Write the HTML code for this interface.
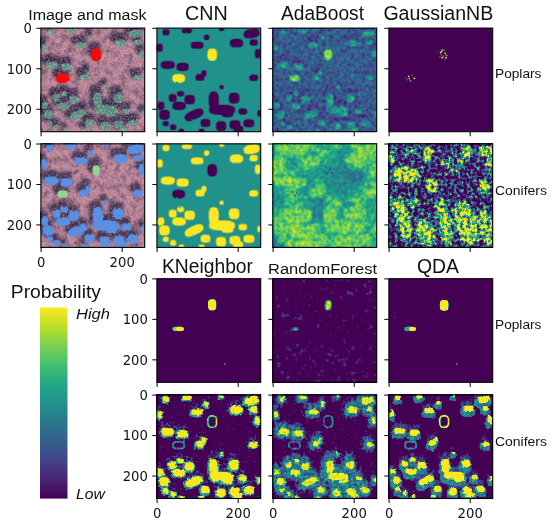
<!DOCTYPE html>
<html><head><meta charset="utf-8"><style>html,body{margin:0;padding:0;background:#fff;overflow:hidden}svg{display:block}</style></head>
<body><svg width="550" height="526" viewBox="0 0 550 526" color-interpolation-filters="sRGB">
<rect width="550" height="526" fill="#fff"/>
<defs><linearGradient id="vg" x1="0" y1="0" x2="0" y2="1"><stop offset="0.0" stop-color="#fde725"/><stop offset="0.1" stop-color="#bddf26"/><stop offset="0.2" stop-color="#7ad151"/><stop offset="0.3" stop-color="#44bf70"/><stop offset="0.4" stop-color="#22a884"/><stop offset="0.5" stop-color="#21918c"/><stop offset="0.6" stop-color="#2a788e"/><stop offset="0.7" stop-color="#355f8d"/><stop offset="0.8" stop-color="#414487"/><stop offset="0.9" stop-color="#482475"/><stop offset="1.0" stop-color="#440154"/></linearGradient></defs><rect x="40" y="307.5" width="27.5" height="191.1" fill="url(#vg)"/>
<svg x="40.9" y="28.1" width="103.8" height="103.6" viewBox="0 0 526 526" preserveAspectRatio="none" overflow="hidden"><defs><filter id="ae1s" x="-50%" y="-50%" width="200%" height="200%"><feGaussianBlur stdDeviation="7"/></filter><filter id="ae1c" x="-50%" y="-50%" width="200%" height="200%"><feGaussianBlur stdDeviation="3"/></filter><filter id="ae1m" x="-20%" y="-20%" width="140%" height="140%"><feTurbulence type="fractalNoise" baseFrequency="0.07" numOctaves="2" seed="14" result="t"/><feDisplacementMap in="SourceGraphic" in2="t" scale="16" xChannelSelector="R" yChannelSelector="G"/></filter><filter id="ae1n1" x="0" y="0" width="100%" height="100%"><feTurbulence type="fractalNoise" baseFrequency="0.03" numOctaves="2" seed="3" result="t"/><feColorMatrix in="t" type="matrix" values="0 0 0 0 0.25  0 0 0 0 0.17  0 0 0 0 0.25  2.4 0 0 0 -1.0"/></filter><filter id="ae1n2" x="0" y="0" width="100%" height="100%"><feTurbulence type="fractalNoise" baseFrequency="0.09" numOctaves="2" seed="6" result="t"/><feColorMatrix in="t" type="matrix" values="0 0 0 0 0.88  0 0 0 0 0.64  0 0 0 0 0.72  2.0 0 0 0 -0.8"/></filter><filter id="ae1n3" x="0" y="0" width="100%" height="100%"><feTurbulence type="fractalNoise" baseFrequency="0.09" numOctaves="2" seed="8" result="t"/><feColorMatrix in="t" type="matrix" values="0 0 0 0 0.3  0 0 0 0 0.22  0 0 0 0 0.36  2.0 0 0 0 -0.85"/></filter><filter id="ae1n5" x="0" y="0" width="100%" height="100%"><feTurbulence type="fractalNoise" baseFrequency="0.12" numOctaves="2" seed="16" result="t"/><feColorMatrix in="t" type="matrix" values="0 0 0 0 0.72  0 0 0 0 0.68  0 0 0 0 0.84  2.2 0 0 0 -0.95"/></filter><filter id="ae1n4" x="0" y="0" width="100%" height="100%"><feTurbulence type="fractalNoise" baseFrequency="0.1" numOctaves="2" seed="12" result="t"/><feColorMatrix in="t" type="matrix" values="0 0 0 0 0.62  0 0 0 0 0.88  0 0 0 0 0.78  2.4 0 0 0 -1.0"/></filter><clipPath id="ae1cl"><rect x="31.0" y="7.8" width="30.0" height="26.5" rx="11.2" ry="9.9"/><rect x="129.9" y="3.4" width="44.1" height="21.2" rx="16.5" ry="7.9"/><rect x="240.5" y="35.5" width="22.9" height="22.9" rx="8.6" ry="8.6"/><rect x="317.4" y="0.8" width="21.2" height="12.3" rx="7.9" ry="4.6"/><rect x="176.7" y="72.0" width="54.7" height="30.0" rx="20.5" ry="11.2"/><rect x="444.7" y="8.6" width="70.6" height="38.8" rx="26.5" ry="14.6" transform="rotate(-10 480 28)"/><rect x="373.9" y="57.5" width="58.2" height="37.0" rx="21.8" ry="13.9"/><rect x="472.4" y="58.9" width="35.3" height="28.2" rx="13.2" ry="10.6"/><rect x="498.7" y="109.7" width="24.7" height="40.6" rx="9.3" ry="15.2"/><rect x="0.8" y="82.4" width="26.5" height="35.3" rx="9.9" ry="13.2"/><rect x="24.1" y="169.4" width="61.7" height="35.3" rx="23.2" ry="13.2"/><rect x="103.5" y="179.4" width="52.9" height="35.3" rx="19.8" ry="13.2"/><rect x="198.6" y="235.0" width="38.8" height="30.0" rx="14.6" ry="11.2"/><rect x="227.4" y="215.9" width="21.2" height="28.2" rx="7.9" ry="10.6"/><rect x="470.6" y="237.9" width="38.8" height="28.2" rx="14.6" ry="10.6"/><rect x="319.2" y="290.2" width="17.6" height="17.6" rx="6.6" ry="6.6"/><rect x="105.0" y="321.5" width="30.0" height="22.9" rx="11.2" ry="8.6"/><rect x="63.2" y="337.4" width="33.5" height="35.3" rx="12.6" ry="13.2"/><rect x="143.1" y="342.7" width="45.9" height="40.6" rx="17.2" ry="15.2"/><rect x="265.9" y="327.2" width="44.1" height="77.6" rx="16.5" ry="29.1"/><rect x="271.8" y="392.9" width="116.4" height="44.1" rx="43.7" ry="16.5"/><rect x="330.5" y="410.6" width="52.9" height="38.8" rx="19.8" ry="14.6"/><rect x="368.1" y="331.2" width="45.9" height="47.6" rx="17.2" ry="17.9"/><rect x="5.0" y="376.2" width="30.0" height="33.5" rx="11.2" ry="12.6"/><rect x="82.0" y="377.4" width="60.0" height="35.3" rx="22.5" ry="13.2"/><rect x="15.1" y="417.9" width="45.9" height="44.1" rx="17.2" ry="16.5"/><rect x="143.9" y="420.6" width="88.2" height="38.8" rx="33.1" ry="14.6" transform="rotate(-25 188 440)"/><rect x="416.5" y="408.9" width="37.0" height="28.2" rx="13.9" ry="10.6"/><rect x="31.8" y="473.5" width="26.5" height="22.9" rx="9.9" ry="8.6"/><rect x="68.8" y="490.7" width="26.5" height="24.7" rx="9.9" ry="9.3"/><rect x="113.4" y="512.9" width="21.2" height="14.1" rx="7.9" ry="5.3"/><rect x="213.7" y="512.9" width="24.7" height="14.1" rx="9.3" ry="5.3"/><rect x="224.8" y="464.4" width="42.3" height="35.3" rx="15.9" ry="13.2"/><rect x="302.9" y="475.8" width="44.1" height="42.3" rx="16.5" ry="15.9"/><rect x="371.2" y="470.6" width="47.6" height="38.8" rx="17.9" ry="14.6"/><rect x="389.9" y="497.9" width="44.1" height="28.2" rx="16.5" ry="10.6"/><rect x="442.2" y="465.4" width="47.6" height="35.3" rx="17.9" ry="13.2"/><rect x="510.2" y="419.8" width="17.6" height="26.5" rx="6.6" ry="9.9"/></clipPath></defs>
<rect width="526" height="526" fill="#c48c9a"/>
<rect width="526" height="526" filter="url(#ae1n1)" opacity="0.6"/>
<g fill="#221a3a" opacity="0.85" filter="url(#ae1s)">
<rect x="8.8" y="-29.3" width="50.4" height="44.6" rx="18.9" ry="16.7"/>
<rect x="106.2" y="-33.2" width="67.6" height="38.4" rx="25.4" ry="14.4"/>
<rect x="219.1" y="-1.2" width="41.7" height="40.5" rx="15.7" ry="15.2"/>
<rect x="296.2" y="-35.1" width="39.6" height="28.1" rx="14.8" ry="10.5"/>
<rect x="151.7" y="34.6" width="80.6" height="48.7" rx="30.2" ry="18.3"/>
<rect x="418.0" y="-29.5" width="100.0" height="59.0" rx="37.5" ry="22.1" transform="rotate(-10 468 0)"/>
<rect x="348.6" y="19.5" width="84.9" height="56.9" rx="31.8" ry="21.4"/>
<rect x="449.6" y="21.7" width="56.8" height="46.6" rx="21.3" ry="17.5"/>
<rect x="477.0" y="71.5" width="43.9" height="61.1" rx="16.5" ry="22.9"/>
<rect x="-21.0" y="44.6" width="46.1" height="54.9" rx="17.3" ry="20.6"/>
<rect x="-1.6" y="131.6" width="89.2" height="54.9" rx="33.4" ry="20.6"/>
<rect x="78.8" y="141.6" width="78.4" height="54.9" rx="29.4" ry="20.6"/>
<rect x="175.4" y="197.6" width="61.2" height="48.7" rx="22.9" ry="18.3"/>
<rect x="206.2" y="178.7" width="39.6" height="46.6" rx="14.8" ry="17.5"/>
<rect x="447.4" y="200.7" width="61.2" height="46.6" rx="22.9" ry="17.5"/>
<rect x="298.4" y="253.8" width="35.3" height="34.3" rx="13.2" ry="12.9"/>
<rect x="82.8" y="284.8" width="50.4" height="40.5" rx="18.9" ry="15.2"/>
<rect x="40.7" y="299.6" width="54.7" height="54.9" rx="20.5" ry="20.6"/>
<rect x="119.1" y="304.5" width="69.8" height="61.1" rx="26.2" ry="22.9"/>
<rect x="242.2" y="285.9" width="67.6" height="104.3" rx="25.4" ry="39.1"/>
<rect x="240.0" y="354.4" width="156.0" height="65.2" rx="58.5" ry="24.4"/>
<rect x="305.8" y="372.5" width="78.4" height="59.0" rx="29.4" ry="22.1"/>
<rect x="344.1" y="292.4" width="69.8" height="69.3" rx="26.2" ry="26.0"/>
<rect x="-17.2" y="338.6" width="50.4" height="52.8" rx="18.9" ry="19.8"/>
<rect x="56.5" y="339.6" width="87.0" height="54.9" rx="32.6" ry="20.6"/>
<rect x="-8.9" y="379.4" width="69.8" height="65.2" rx="26.2" ry="24.4"/>
<rect x="115.2" y="382.5" width="121.5" height="59.0" rx="45.6" ry="22.1" transform="rotate(-25 176 412)"/>
<rect x="393.5" y="371.7" width="59.0" height="46.6" rx="22.1" ry="17.5"/>
<rect x="10.0" y="436.8" width="46.1" height="40.5" rx="17.3" ry="15.2"/>
<rect x="47.0" y="453.7" width="46.1" height="42.5" rx="17.3" ry="15.9"/>
<rect x="92.2" y="476.9" width="39.6" height="30.2" rx="14.8" ry="11.3"/>
<rect x="192.0" y="476.9" width="43.9" height="30.2" rx="16.5" ry="11.3"/>
<rect x="201.3" y="426.6" width="65.5" height="54.9" rx="24.5" ry="20.6"/>
<rect x="279.2" y="437.4" width="67.6" height="63.1" rx="25.4" ry="23.7"/>
<rect x="347.0" y="432.5" width="71.9" height="59.0" rx="27.0" ry="22.1"/>
<rect x="366.2" y="460.7" width="67.6" height="46.6" rx="25.4" ry="17.5"/>
<rect x="418.0" y="427.6" width="71.9" height="54.9" rx="27.0" ry="20.6"/>
<rect x="489.4" y="382.7" width="35.3" height="44.6" rx="13.2" ry="16.7"/>
<rect x="235.3" y="68.2" width="65.5" height="77.5" rx="24.5" ry="29.1"/>
<rect x="56.6" y="197.5" width="82.7" height="59.0" rx="31.0" ry="22.1"/>
</g>
<rect width="526" height="526" filter="url(#ae1n2)" opacity="0.6"/>
<rect width="526" height="526" filter="url(#ae1n3)" opacity="0.45"/>
<rect width="526" height="526" filter="url(#ae1n5)" opacity="0.3"/>
<g filter="url(#ae1m)"><g clip-path="url(#ae1cl)" opacity="0.85"><rect width="526" height="526" fill="#5a9282"/><rect width="526" height="526" filter="url(#ae1n4)" opacity="0.8"/></g></g>
<g fill="#f50a0a" filter="url(#ae1m)"><rect x="254.5" y="102.7" width="51.0" height="64.7" rx="19.1" ry="24.3"/><rect x="76.7" y="231.5" width="66.6" height="47.0" rx="25.0" ry="17.6"/></g></svg><rect x="40.9" y="28.1" width="103.8" height="103.6" fill="none" stroke="#000" stroke-width="1.1"/><path d="M36.30 28.30H40.90 M36.30 68.77H40.90 M36.30 109.24H40.90 M41.10 131.70V136.30 M122.20 131.70V136.30" stroke="#000" stroke-width="1.0" fill="none"/><svg x="156.9" y="28.1" width="103.8" height="103.6" viewBox="0 0 526 526" preserveAspectRatio="none" overflow="hidden"><rect width="526" height="526" fill="#21918c"/>
<defs><filter id="c1d" x="-20%" y="-20%" width="140%" height="140%"><feTurbulence type="fractalNoise" baseFrequency="0.035" numOctaves="2" seed="7" result="t"/><feDisplacementMap in="SourceGraphic" in2="t" scale="9" xChannelSelector="R" yChannelSelector="G"/></filter></defs>
<g filter="url(#c1d)">
<g fill="#440154"><rect x="28.4" y="5.3" width="35.3" height="31.4" rx="13.2" ry="11.8"/><rect x="126.5" y="1.3" width="51.0" height="25.5" rx="19.1" ry="9.6"/><rect x="238.3" y="33.3" width="27.4" height="27.4" rx="10.3" ry="10.3"/><rect x="315.3" y="-0.8" width="25.5" height="15.7" rx="9.6" ry="5.9"/><rect x="172.6" y="69.4" width="62.7" height="35.3" rx="23.5" ry="13.2"/><rect x="439.8" y="5.5" width="80.4" height="45.1" rx="30.1" ry="16.9" transform="rotate(-10 480 28)"/><rect x="369.7" y="54.4" width="66.6" height="43.1" rx="25.0" ry="16.2"/><rect x="469.4" y="56.3" width="41.2" height="33.3" rx="15.4" ry="12.5"/><rect x="496.3" y="106.5" width="29.4" height="47.0" rx="11.0" ry="17.6"/><rect x="-1.7" y="79.4" width="31.4" height="41.2" rx="11.8" ry="15.4"/><rect x="19.7" y="166.4" width="70.6" height="41.2" rx="26.5" ry="15.4"/><rect x="99.6" y="176.4" width="60.8" height="41.2" rx="22.8" ry="15.4"/><rect x="195.5" y="232.4" width="45.1" height="35.3" rx="16.9" ry="13.2"/><rect x="225.3" y="213.3" width="25.5" height="33.3" rx="9.6" ry="12.5"/><rect x="467.5" y="235.3" width="45.1" height="33.3" rx="16.9" ry="12.5"/><rect x="317.2" y="288.2" width="21.6" height="21.6" rx="8.1" ry="8.1"/><rect x="102.4" y="319.3" width="35.3" height="27.4" rx="13.2" ry="10.3"/><rect x="60.4" y="334.4" width="39.2" height="41.2" rx="14.7" ry="15.4"/><rect x="139.5" y="339.5" width="52.9" height="47.0" rx="19.8" ry="17.6"/><rect x="262.5" y="321.9" width="51.0" height="88.2" rx="19.1" ry="33.1"/><rect x="264.3" y="389.5" width="131.3" height="51.0" rx="49.2" ry="19.1"/><rect x="326.6" y="407.5" width="60.8" height="45.1" rx="22.8" ry="16.9"/><rect x="364.5" y="327.6" width="52.9" height="54.9" rx="19.8" ry="20.6"/><rect x="2.4" y="373.4" width="35.3" height="39.2" rx="13.2" ry="14.7"/><rect x="77.7" y="374.4" width="68.6" height="41.2" rx="25.7" ry="15.4"/><rect x="11.5" y="414.5" width="52.9" height="51.0" rx="19.8" ry="19.1"/><rect x="138.0" y="417.5" width="100.0" height="45.1" rx="37.5" ry="16.9" transform="rotate(-25 188 440)"/><rect x="413.4" y="406.3" width="43.1" height="33.3" rx="16.2" ry="12.5"/><rect x="29.3" y="471.3" width="31.4" height="27.4" rx="11.8" ry="10.3"/><rect x="66.3" y="488.3" width="31.4" height="29.4" rx="11.8" ry="11.0"/><rect x="111.3" y="511.2" width="25.5" height="17.6" rx="9.6" ry="6.6"/><rect x="211.3" y="511.2" width="29.4" height="17.6" rx="11.0" ry="6.6"/><rect x="221.5" y="461.4" width="49.0" height="41.2" rx="18.4" ry="15.4"/><rect x="299.5" y="472.5" width="51.0" height="49.0" rx="19.1" ry="18.4"/><rect x="367.6" y="467.5" width="54.9" height="45.1" rx="20.6" ry="16.9"/><rect x="386.5" y="495.3" width="51.0" height="33.3" rx="19.1" ry="12.5"/><rect x="438.6" y="462.4" width="54.9" height="41.2" rx="20.6" ry="15.4"/><rect x="508.2" y="417.3" width="21.6" height="31.4" rx="8.1" ry="11.8"/></g>
<g fill="#fde725"><rect x="255.5" y="103.6" width="49.0" height="62.7" rx="18.4" ry="23.5"/><rect x="77.7" y="232.5" width="64.7" height="45.1" rx="24.3" ry="16.9"/></g>
</g></svg><rect x="156.9" y="28.1" width="103.8" height="103.6" fill="none" stroke="#000" stroke-width="1.1"/><path d="M152.30 28.30H156.90 M152.30 68.77H156.90 M152.30 109.24H156.90 M157.10 131.70V136.30 M238.20 131.70V136.30" stroke="#000" stroke-width="1.0" fill="none"/><svg x="272.9" y="28.1" width="103.8" height="103.6" viewBox="0 0 526 526" preserveAspectRatio="none" overflow="hidden"><defs><filter id="ad1v" x="0" y="0" width="100%" height="100%" color-interpolation-filters="sRGB"><feGaussianBlur in="SourceGraphic" stdDeviation="3" result="f"/><feTurbulence type="fractalNoise" baseFrequency="0.055" numOctaves="2" seed="21" result="t"/><feColorMatrix in="t" type="matrix" values="1 0 0 0 0 1 0 0 0 0 1 0 0 0 0 0 0 0 0 1" result="tn"/><feComposite in="f" in2="tn" operator="arithmetic" k1="0" k2="1.0" k3="0.5" k4="-0.25" result="v"/><feComponentTransfer in="v"><feFuncR type="discrete" tableValues="0.267 0.274 0.279 0.282 0.283 0.282 0.279 0.273 0.267 0.257 0.249 0.239 0.228 0.218 0.207 0.198 0.187 0.179 0.170 0.162 0.155 0.146 0.139 0.131 0.125 0.121 0.119 0.123 0.132 0.147 0.171 0.197 0.233 0.267 0.312 0.352 0.404 0.449 0.497 0.555 0.606 0.668 0.720 0.783 0.835 0.896 0.946 0.993"/><feFuncG type="discrete" tableValues="0.005 0.031 0.062 0.095 0.121 0.151 0.175 0.205 0.228 0.256 0.279 0.301 0.327 0.347 0.372 0.392 0.415 0.434 0.456 0.475 0.493 0.515 0.534 0.556 0.574 0.596 0.615 0.637 0.655 0.673 0.694 0.712 0.732 0.749 0.768 0.783 0.800 0.814 0.826 0.840 0.851 0.862 0.870 0.879 0.886 0.894 0.900 0.906"/><feFuncB type="discrete" tableValues="0.329 0.359 0.387 0.417 0.441 0.465 0.483 0.502 0.514 0.527 0.535 0.541 0.547 0.550 0.553 0.555 0.557 0.557 0.558 0.558 0.558 0.557 0.555 0.552 0.549 0.544 0.538 0.529 0.520 0.509 0.494 0.479 0.459 0.441 0.416 0.393 0.363 0.335 0.306 0.269 0.237 0.196 0.163 0.125 0.103 0.096 0.113 0.144"/><feFuncA type="linear" slope="0" intercept="1"/></feComponentTransfer></filter><filter id="ad1h" x="-50%" y="-50%" width="200%" height="200%"><feGaussianBlur stdDeviation="10"/></filter><filter id="ad1c" x="-50%" y="-50%" width="200%" height="200%"><feGaussianBlur stdDeviation="3"/></filter></defs>
<g filter="url(#ad1v)">
<rect x="-20" y="-20" width="566" height="566" fill="rgb(76,76,76)"/>
<g fill="rgb(31,31,31)" opacity="0.55" filter="url(#ad1h)"><rect x="21.7" y="-25.2" width="36.7" height="32.3" rx="13.7" ry="12.1"/><rect x="119.0" y="-28.9" width="53.9" height="25.9" rx="20.2" ry="9.7"/><rect x="232.0" y="3.0" width="28.0" height="28.0" rx="10.5" ry="10.5"/><rect x="309.1" y="-30.5" width="25.9" height="15.1" rx="9.7" ry="5.7"/><rect x="164.6" y="38.7" width="66.8" height="36.7" rx="25.1" ry="13.7"/><rect x="430.9" y="-25.7" width="86.2" height="47.4" rx="32.3" ry="17.8" transform="rotate(-10 474 -2)"/><rect x="361.4" y="23.4" width="71.1" height="45.3" rx="26.7" ry="17.0"/><rect x="462.4" y="25.8" width="43.1" height="34.5" rx="16.2" ry="12.9"/><rect x="489.9" y="75.2" width="30.2" height="49.6" rx="11.3" ry="18.6"/><rect x="-8.2" y="48.4" width="32.3" height="43.1" rx="12.1" ry="16.2"/><rect x="11.3" y="135.4" width="75.5" height="43.1" rx="28.3" ry="16.2"/><rect x="91.7" y="145.4" width="64.7" height="43.1" rx="24.3" ry="16.2"/><rect x="188.3" y="201.7" width="47.4" height="36.7" rx="17.8" ry="13.7"/><rect x="219.1" y="182.8" width="25.9" height="34.5" rx="9.7" ry="12.9"/><rect x="460.3" y="204.8" width="47.4" height="34.5" rx="17.8" ry="12.9"/><rect x="311.2" y="258.2" width="21.6" height="21.6" rx="8.1" ry="8.1"/><rect x="95.7" y="289.0" width="36.7" height="28.0" rx="13.7" ry="10.5"/><rect x="53.5" y="303.4" width="41.0" height="43.1" rx="15.4" ry="16.2"/><rect x="132.0" y="308.2" width="56.1" height="49.6" rx="21.0" ry="18.6"/><rect x="255.1" y="288.6" width="53.9" height="94.9" rx="20.2" ry="35.6"/><rect x="252.9" y="358.1" width="142.3" height="53.9" rx="53.4" ry="20.2"/><rect x="318.7" y="376.3" width="64.7" height="47.4" rx="24.3" ry="17.8"/><rect x="357.0" y="295.9" width="56.1" height="58.2" rx="21.0" ry="21.8"/><rect x="-4.3" y="342.5" width="36.7" height="41.0" rx="13.7" ry="15.4"/><rect x="69.3" y="343.4" width="73.3" height="43.1" rx="27.5" ry="16.2"/><rect x="4.0" y="383.1" width="56.1" height="53.9" rx="21.0" ry="20.2"/><rect x="128.1" y="386.3" width="107.8" height="47.4" rx="40.4" ry="17.8" transform="rotate(-25 182 410)"/><rect x="406.4" y="375.8" width="45.3" height="34.5" rx="17.0" ry="12.9"/><rect x="22.8" y="441.0" width="32.3" height="28.0" rx="12.1" ry="10.5"/><rect x="59.8" y="457.9" width="32.3" height="30.2" rx="12.1" ry="11.3"/><rect x="105.1" y="481.4" width="25.9" height="17.2" rx="9.7" ry="6.5"/><rect x="204.9" y="481.4" width="30.2" height="17.2" rx="11.3" ry="6.5"/><rect x="214.1" y="430.4" width="51.7" height="43.1" rx="19.4" ry="16.2"/><rect x="292.1" y="441.1" width="53.9" height="51.7" rx="20.2" ry="19.4"/><rect x="359.9" y="436.3" width="58.2" height="47.4" rx="21.8" ry="17.8"/><rect x="379.1" y="464.8" width="53.9" height="34.5" rx="20.2" ry="12.9"/><rect x="430.9" y="431.4" width="58.2" height="43.1" rx="21.8" ry="16.2"/><rect x="502.2" y="386.8" width="21.6" height="32.3" rx="8.1" ry="12.1"/></g>
<g fill="rgb(107,107,107)" filter="url(#ad1c)"><rect x="31.0" y="7.8" width="30.0" height="26.5" rx="11.2" ry="9.9"/><rect x="129.9" y="3.4" width="44.1" height="21.2" rx="16.5" ry="7.9"/><rect x="240.5" y="35.5" width="22.9" height="22.9" rx="8.6" ry="8.6"/><rect x="317.4" y="0.8" width="21.2" height="12.3" rx="7.9" ry="4.6"/><rect x="176.7" y="72.0" width="54.7" height="30.0" rx="20.5" ry="11.2"/><rect x="444.7" y="8.6" width="70.6" height="38.8" rx="26.5" ry="14.6" transform="rotate(-10 480 28)"/><rect x="373.9" y="57.5" width="58.2" height="37.0" rx="21.8" ry="13.9"/><rect x="472.4" y="58.9" width="35.3" height="28.2" rx="13.2" ry="10.6"/><rect x="498.7" y="109.7" width="24.7" height="40.6" rx="9.3" ry="15.2"/><rect x="0.8" y="82.4" width="26.5" height="35.3" rx="9.9" ry="13.2"/><rect x="24.1" y="169.4" width="61.7" height="35.3" rx="23.2" ry="13.2"/><rect x="103.5" y="179.4" width="52.9" height="35.3" rx="19.8" ry="13.2"/><rect x="198.6" y="235.0" width="38.8" height="30.0" rx="14.6" ry="11.2"/><rect x="227.4" y="215.9" width="21.2" height="28.2" rx="7.9" ry="10.6"/><rect x="470.6" y="237.9" width="38.8" height="28.2" rx="14.6" ry="10.6"/><rect x="319.2" y="290.2" width="17.6" height="17.6" rx="6.6" ry="6.6"/><rect x="105.0" y="321.5" width="30.0" height="22.9" rx="11.2" ry="8.6"/><rect x="63.2" y="337.4" width="33.5" height="35.3" rx="12.6" ry="13.2"/><rect x="143.1" y="342.7" width="45.9" height="40.6" rx="17.2" ry="15.2"/><rect x="265.9" y="327.2" width="44.1" height="77.6" rx="16.5" ry="29.1"/><rect x="271.8" y="392.9" width="116.4" height="44.1" rx="43.7" ry="16.5"/><rect x="330.5" y="410.6" width="52.9" height="38.8" rx="19.8" ry="14.6"/><rect x="368.1" y="331.2" width="45.9" height="47.6" rx="17.2" ry="17.9"/><rect x="5.0" y="376.2" width="30.0" height="33.5" rx="11.2" ry="12.6"/><rect x="82.0" y="377.4" width="60.0" height="35.3" rx="22.5" ry="13.2"/><rect x="15.1" y="417.9" width="45.9" height="44.1" rx="17.2" ry="16.5"/><rect x="143.9" y="420.6" width="88.2" height="38.8" rx="33.1" ry="14.6" transform="rotate(-25 188 440)"/><rect x="416.5" y="408.9" width="37.0" height="28.2" rx="13.9" ry="10.6"/><rect x="31.8" y="473.5" width="26.5" height="22.9" rx="9.9" ry="8.6"/><rect x="68.8" y="490.7" width="26.5" height="24.7" rx="9.9" ry="9.3"/><rect x="113.4" y="512.9" width="21.2" height="14.1" rx="7.9" ry="5.3"/><rect x="213.7" y="512.9" width="24.7" height="14.1" rx="9.3" ry="5.3"/><rect x="224.8" y="464.4" width="42.3" height="35.3" rx="15.9" ry="13.2"/><rect x="302.9" y="475.8" width="44.1" height="42.3" rx="16.5" ry="15.9"/><rect x="371.2" y="470.6" width="47.6" height="38.8" rx="17.9" ry="14.6"/><rect x="389.9" y="497.9" width="44.1" height="28.2" rx="16.5" ry="10.6"/><rect x="442.2" y="465.4" width="47.6" height="35.3" rx="17.9" ry="13.2"/><rect x="510.2" y="419.8" width="17.6" height="26.5" rx="6.6" ry="9.9"/></g>
<g fill="rgb(143,143,143)" filter="url(#ad1c)"><rect x="39.0" y="15.2" width="20.0" height="17.6" rx="7.5" ry="6.6"/><rect x="140.3" y="9.9" width="29.4" height="14.1" rx="11.0" ry="5.3"/><rect x="247.4" y="42.4" width="15.3" height="15.3" rx="5.7" ry="5.7"/><rect x="323.9" y="5.9" width="14.1" height="8.2" rx="5.3" ry="3.1"/><rect x="188.8" y="80.0" width="36.5" height="20.0" rx="13.7" ry="7.5"/><rect x="459.5" y="18.1" width="47.0" height="25.9" rx="17.6" ry="9.7" transform="rotate(-10 483 31)"/><rect x="386.6" y="66.7" width="38.8" height="24.7" rx="14.6" ry="9.3"/><rect x="481.2" y="66.6" width="23.5" height="18.8" rx="8.8" ry="7.1"/><rect x="505.8" y="119.5" width="16.5" height="27.0" rx="6.2" ry="10.1"/><rect x="8.2" y="91.2" width="17.6" height="23.5" rx="6.6" ry="8.8"/><rect x="37.4" y="178.2" width="41.2" height="23.5" rx="15.4" ry="8.8"/><rect x="115.4" y="188.2" width="35.3" height="23.5" rx="13.2" ry="8.8"/><rect x="208.1" y="243.0" width="25.9" height="20.0" rx="9.7" ry="7.5"/><rect x="233.9" y="223.6" width="14.1" height="18.8" rx="5.3" ry="7.1"/><rect x="480.1" y="245.6" width="25.9" height="18.8" rx="9.7" ry="7.1"/><rect x="325.1" y="296.1" width="11.8" height="11.8" rx="4.4" ry="4.4"/><rect x="113.0" y="328.4" width="20.0" height="15.3" rx="7.5" ry="5.7"/><rect x="71.8" y="346.2" width="22.3" height="23.5" rx="8.4" ry="8.8"/><rect x="153.7" y="352.5" width="30.6" height="27.0" rx="11.5" ry="10.1"/><rect x="276.3" y="343.1" width="29.4" height="51.7" rx="11.0" ry="19.4"/><rect x="294.2" y="403.3" width="77.6" height="29.4" rx="29.1" ry="11.0"/><rect x="342.4" y="420.1" width="35.3" height="25.9" rx="13.2" ry="9.7"/><rect x="378.7" y="342.1" width="30.6" height="31.8" rx="11.5" ry="11.9"/><rect x="13.0" y="384.8" width="20.0" height="22.3" rx="7.5" ry="8.4"/><rect x="95.0" y="386.2" width="40.0" height="23.5" rx="15.0" ry="8.8"/><rect x="25.7" y="428.3" width="30.6" height="29.4" rx="11.5" ry="11.0"/><rect x="161.6" y="430.1" width="58.8" height="25.9" rx="22.0" ry="9.7" transform="rotate(-25 191 443)"/><rect x="425.7" y="416.6" width="24.7" height="18.8" rx="9.3" ry="7.1"/><rect x="39.2" y="480.4" width="17.6" height="15.3" rx="6.6" ry="5.7"/><rect x="76.2" y="497.8" width="17.6" height="16.5" rx="6.6" ry="6.2"/><rect x="119.9" y="518.3" width="14.1" height="9.4" rx="5.3" ry="3.5"/><rect x="220.8" y="518.3" width="16.5" height="9.4" rx="6.2" ry="3.5"/><rect x="234.9" y="473.2" width="28.2" height="23.5" rx="10.6" ry="8.8"/><rect x="313.3" y="485.9" width="29.4" height="28.2" rx="11.0" ry="10.6"/><rect x="382.1" y="480.1" width="31.8" height="25.9" rx="11.9" ry="9.7"/><rect x="400.3" y="505.6" width="29.4" height="18.8" rx="11.0" ry="7.1"/><rect x="453.1" y="474.2" width="31.8" height="23.5" rx="11.9" ry="8.8"/><rect x="516.1" y="427.2" width="11.8" height="17.6" rx="4.4" ry="6.6"/></g>
<rect x="257.7" y="106.1" width="44.7" height="57.7" rx="16.8" ry="21.6" fill="rgb(173,173,173)"/><rect x="264.7" y="113.7" width="30.6" height="42.5" rx="11.5" ry="15.9" fill="rgb(219,219,219)"/><rect x="81.8" y="236.7" width="56.4" height="36.7" rx="21.2" ry="13.7" fill="rgb(153,153,153)"/><rect x="92.8" y="243.1" width="34.5" height="23.7" rx="12.9" ry="8.9" fill="rgb(199,199,199)"/>
</g></svg><rect x="272.9" y="28.1" width="103.8" height="103.6" fill="none" stroke="#000" stroke-width="1.1"/><path d="M268.30 28.30H272.90 M268.30 68.77H272.90 M268.30 109.24H272.90 M273.10 131.70V136.30 M354.20 131.70V136.30" stroke="#000" stroke-width="1.0" fill="none"/><svg x="388.9" y="28.1" width="103.8" height="103.6" viewBox="0 0 526 526" preserveAspectRatio="none" overflow="hidden"><rect width="526" height="526" fill="#440154"/>
<defs><filter id="g1b" x="-50%" y="-50%" width="200%" height="200%"><feGaussianBlur stdDeviation="1.2"/></filter></defs><g filter="url(#g1b)">
<circle cx="268" cy="118" r="4.5" fill="#fde725"/>
<circle cx="285" cy="128" r="4.5" fill="#fde725"/>
<circle cx="276" cy="142" r="4.5" fill="#35b779"/>
<circle cx="290" cy="150" r="4.5" fill="#fde725"/>
<circle cx="265" cy="135" r="4.5" fill="#31688e"/>
<circle cx="272" cy="110" r="4.5" fill="#6ece58"/>
<circle cx="262" cy="124" r="4.5" fill="#fde725"/>
<circle cx="280" cy="112" r="4.5" fill="#2a788e"/>
<circle cx="292" cy="138" r="4.5" fill="#6ece58"/>
<circle cx="270" cy="150" r="4.5" fill="#fde725"/>
<circle cx="284" cy="158" r="4.5" fill="#31688e"/>
<circle cx="258" cy="145" r="4.5" fill="#3e4989"/>
<circle cx="100" cy="245" r="4.5" fill="#fde725"/>
<circle cx="128" cy="255" r="4.5" fill="#fde725"/>
<circle cx="95" cy="262" r="4.5" fill="#31688e"/>
<circle cx="110" cy="268" r="4.5" fill="#35b779"/>
<circle cx="84" cy="255" r="4.5" fill="#3e4989"/>
<circle cx="118" cy="240" r="4.5" fill="#2a788e"/>
<circle cx="104" cy="256" r="4.5" fill="#6ece58"/>
</g></svg><rect x="388.9" y="28.1" width="103.8" height="103.6" fill="none" stroke="#000" stroke-width="1.1"/><path d="M384.30 28.30H388.90 M384.30 68.77H388.90 M384.30 109.24H388.90 M389.10 131.70V136.30 M470.20 131.70V136.30" stroke="#000" stroke-width="1.0" fill="none"/><svg x="40.9" y="143.8" width="103.8" height="103.6" viewBox="0 0 526 526" preserveAspectRatio="none" overflow="hidden"><defs><filter id="ae2s" x="-50%" y="-50%" width="200%" height="200%"><feGaussianBlur stdDeviation="7"/></filter><filter id="ae2c" x="-50%" y="-50%" width="200%" height="200%"><feGaussianBlur stdDeviation="3"/></filter><filter id="ae2m" x="-20%" y="-20%" width="140%" height="140%"><feTurbulence type="fractalNoise" baseFrequency="0.07" numOctaves="2" seed="16" result="t"/><feDisplacementMap in="SourceGraphic" in2="t" scale="16" xChannelSelector="R" yChannelSelector="G"/></filter><filter id="ae2n1" x="0" y="0" width="100%" height="100%"><feTurbulence type="fractalNoise" baseFrequency="0.03" numOctaves="2" seed="5" result="t"/><feColorMatrix in="t" type="matrix" values="0 0 0 0 0.25  0 0 0 0 0.17  0 0 0 0 0.25  2.4 0 0 0 -1.0"/></filter><filter id="ae2n2" x="0" y="0" width="100%" height="100%"><feTurbulence type="fractalNoise" baseFrequency="0.09" numOctaves="2" seed="8" result="t"/><feColorMatrix in="t" type="matrix" values="0 0 0 0 0.88  0 0 0 0 0.64  0 0 0 0 0.72  2.0 0 0 0 -0.8"/></filter><filter id="ae2n3" x="0" y="0" width="100%" height="100%"><feTurbulence type="fractalNoise" baseFrequency="0.09" numOctaves="2" seed="10" result="t"/><feColorMatrix in="t" type="matrix" values="0 0 0 0 0.3  0 0 0 0 0.22  0 0 0 0 0.36  2.0 0 0 0 -0.85"/></filter><filter id="ae2n5" x="0" y="0" width="100%" height="100%"><feTurbulence type="fractalNoise" baseFrequency="0.12" numOctaves="2" seed="18" result="t"/><feColorMatrix in="t" type="matrix" values="0 0 0 0 0.72  0 0 0 0 0.68  0 0 0 0 0.84  2.2 0 0 0 -0.95"/></filter><filter id="ae2n4" x="0" y="0" width="100%" height="100%"><feTurbulence type="fractalNoise" baseFrequency="0.1" numOctaves="2" seed="14" result="t"/><feColorMatrix in="t" type="matrix" values="0 0 0 0 0.62  0 0 0 0 0.88  0 0 0 0 0.78  2.4 0 0 0 -1.0"/></filter><clipPath id="ae2cl"></clipPath></defs>
<rect width="526" height="526" fill="#c48c9a"/>
<rect width="526" height="526" filter="url(#ae2n1)" opacity="0.6"/>
<g fill="#221a3a" opacity="0.85" filter="url(#ae2s)">
<rect x="8.8" y="-29.3" width="50.4" height="44.6" rx="18.9" ry="16.7"/>
<rect x="106.2" y="-33.2" width="67.6" height="38.4" rx="25.4" ry="14.4"/>
<rect x="219.1" y="-1.2" width="41.7" height="40.5" rx="15.7" ry="15.2"/>
<rect x="296.2" y="-35.1" width="39.6" height="28.1" rx="14.8" ry="10.5"/>
<rect x="151.7" y="34.6" width="80.6" height="48.7" rx="30.2" ry="18.3"/>
<rect x="418.0" y="-29.5" width="100.0" height="59.0" rx="37.5" ry="22.1" transform="rotate(-10 468 0)"/>
<rect x="348.6" y="19.5" width="84.9" height="56.9" rx="31.8" ry="21.4"/>
<rect x="449.6" y="21.7" width="56.8" height="46.6" rx="21.3" ry="17.5"/>
<rect x="477.0" y="71.5" width="43.9" height="61.1" rx="16.5" ry="22.9"/>
<rect x="-21.0" y="44.6" width="46.1" height="54.9" rx="17.3" ry="20.6"/>
<rect x="-1.6" y="131.6" width="89.2" height="54.9" rx="33.4" ry="20.6"/>
<rect x="78.8" y="141.6" width="78.4" height="54.9" rx="29.4" ry="20.6"/>
<rect x="175.4" y="197.6" width="61.2" height="48.7" rx="22.9" ry="18.3"/>
<rect x="206.2" y="178.7" width="39.6" height="46.6" rx="14.8" ry="17.5"/>
<rect x="447.4" y="200.7" width="61.2" height="46.6" rx="22.9" ry="17.5"/>
<rect x="298.4" y="253.8" width="35.3" height="34.3" rx="13.2" ry="12.9"/>
<rect x="82.8" y="284.8" width="50.4" height="40.5" rx="18.9" ry="15.2"/>
<rect x="40.7" y="299.6" width="54.7" height="54.9" rx="20.5" ry="20.6"/>
<rect x="119.1" y="304.5" width="69.8" height="61.1" rx="26.2" ry="22.9"/>
<rect x="242.2" y="285.9" width="67.6" height="104.3" rx="25.4" ry="39.1"/>
<rect x="240.0" y="354.4" width="156.0" height="65.2" rx="58.5" ry="24.4"/>
<rect x="305.8" y="372.5" width="78.4" height="59.0" rx="29.4" ry="22.1"/>
<rect x="344.1" y="292.4" width="69.8" height="69.3" rx="26.2" ry="26.0"/>
<rect x="-17.2" y="338.6" width="50.4" height="52.8" rx="18.9" ry="19.8"/>
<rect x="56.5" y="339.6" width="87.0" height="54.9" rx="32.6" ry="20.6"/>
<rect x="-8.9" y="379.4" width="69.8" height="65.2" rx="26.2" ry="24.4"/>
<rect x="115.2" y="382.5" width="121.5" height="59.0" rx="45.6" ry="22.1" transform="rotate(-25 176 412)"/>
<rect x="393.5" y="371.7" width="59.0" height="46.6" rx="22.1" ry="17.5"/>
<rect x="10.0" y="436.8" width="46.1" height="40.5" rx="17.3" ry="15.2"/>
<rect x="47.0" y="453.7" width="46.1" height="42.5" rx="17.3" ry="15.9"/>
<rect x="92.2" y="476.9" width="39.6" height="30.2" rx="14.8" ry="11.3"/>
<rect x="192.0" y="476.9" width="43.9" height="30.2" rx="16.5" ry="11.3"/>
<rect x="201.3" y="426.6" width="65.5" height="54.9" rx="24.5" ry="20.6"/>
<rect x="279.2" y="437.4" width="67.6" height="63.1" rx="25.4" ry="23.7"/>
<rect x="347.0" y="432.5" width="71.9" height="59.0" rx="27.0" ry="22.1"/>
<rect x="366.2" y="460.7" width="67.6" height="46.6" rx="25.4" ry="17.5"/>
<rect x="418.0" y="427.6" width="71.9" height="54.9" rx="27.0" ry="20.6"/>
<rect x="489.4" y="382.7" width="35.3" height="44.6" rx="13.2" ry="16.7"/>
<rect x="235.3" y="68.2" width="65.5" height="77.5" rx="24.5" ry="29.1"/>
<rect x="56.6" y="197.5" width="82.7" height="59.0" rx="31.0" ry="22.1"/>
</g>
<rect width="526" height="526" filter="url(#ae2n2)" opacity="0.6"/>
<rect width="526" height="526" filter="url(#ae2n3)" opacity="0.45"/>
<rect width="526" height="526" filter="url(#ae2n5)" opacity="0.3"/>
<g fill="#8fd890" filter="url(#ae2c)"><rect x="261.2" y="109.2" width="37.6" height="51.6" rx="14.1" ry="19.4"/><rect x="84.9" y="236.7" width="50.2" height="36.7" rx="18.8" ry="13.7"/></g>
<g fill="#5b8fe2" filter="url(#ae2m)"><rect x="27.4" y="4.3" width="37.2" height="33.3" rx="14.0" ry="12.5"/><rect x="125.5" y="0.3" width="52.9" height="27.4" rx="19.8" ry="10.3"/><rect x="237.3" y="32.3" width="29.4" height="29.4" rx="11.0" ry="11.0"/><rect x="314.3" y="-1.8" width="27.4" height="17.6" rx="10.3" ry="6.6"/><rect x="171.7" y="68.4" width="64.7" height="37.2" rx="24.3" ry="14.0"/><rect x="438.8" y="4.5" width="82.3" height="47.0" rx="30.9" ry="17.6" transform="rotate(-10 480 28)"/><rect x="368.7" y="53.5" width="68.6" height="45.1" rx="25.7" ry="16.9"/><rect x="468.4" y="55.4" width="43.1" height="35.3" rx="16.2" ry="13.2"/><rect x="495.3" y="105.5" width="31.4" height="49.0" rx="11.8" ry="18.4"/><rect x="-2.7" y="78.4" width="33.3" height="43.1" rx="12.5" ry="16.2"/><rect x="18.7" y="165.4" width="72.5" height="43.1" rx="27.2" ry="16.2"/><rect x="98.6" y="175.4" width="62.7" height="43.1" rx="23.5" ry="16.2"/><rect x="194.5" y="231.4" width="47.0" height="37.2" rx="17.6" ry="14.0"/><rect x="224.3" y="212.4" width="27.4" height="35.3" rx="10.3" ry="13.2"/><rect x="466.5" y="234.4" width="47.0" height="35.3" rx="17.6" ry="13.2"/><rect x="316.2" y="287.2" width="23.5" height="23.5" rx="8.8" ry="8.8"/><rect x="101.4" y="318.3" width="37.2" height="29.4" rx="14.0" ry="11.0"/><rect x="59.4" y="333.4" width="41.2" height="43.1" rx="15.4" ry="16.2"/><rect x="138.6" y="338.5" width="54.9" height="49.0" rx="20.6" ry="18.4"/><rect x="261.5" y="320.9" width="52.9" height="90.2" rx="19.8" ry="33.8"/><rect x="263.4" y="388.5" width="133.3" height="52.9" rx="50.0" ry="19.8"/><rect x="325.6" y="406.5" width="62.7" height="47.0" rx="23.5" ry="17.6"/><rect x="363.6" y="326.6" width="54.9" height="56.8" rx="20.6" ry="21.3"/><rect x="1.4" y="372.4" width="37.2" height="41.2" rx="14.0" ry="15.4"/><rect x="76.7" y="373.4" width="70.6" height="43.1" rx="26.5" ry="16.2"/><rect x="10.6" y="413.5" width="54.9" height="52.9" rx="20.6" ry="19.8"/><rect x="137.0" y="416.5" width="101.9" height="47.0" rx="38.2" ry="17.6" transform="rotate(-25 188 440)"/><rect x="412.5" y="405.4" width="45.1" height="35.3" rx="16.9" ry="13.2"/><rect x="28.3" y="470.3" width="33.3" height="29.4" rx="12.5" ry="11.0"/><rect x="65.3" y="487.3" width="33.3" height="31.4" rx="12.5" ry="11.8"/><rect x="110.3" y="510.2" width="27.4" height="19.6" rx="10.3" ry="7.4"/><rect x="210.3" y="510.2" width="31.4" height="19.6" rx="11.8" ry="7.4"/><rect x="220.5" y="460.4" width="51.0" height="43.1" rx="19.1" ry="16.2"/><rect x="298.5" y="471.5" width="52.9" height="51.0" rx="19.8" ry="19.1"/><rect x="366.6" y="466.5" width="56.8" height="47.0" rx="21.3" ry="17.6"/><rect x="385.5" y="494.4" width="52.9" height="35.3" rx="19.8" ry="13.2"/><rect x="437.6" y="461.4" width="56.8" height="43.1" rx="21.3" ry="16.2"/><rect x="507.2" y="416.3" width="23.5" height="33.3" rx="8.8" ry="12.5"/></g></svg><rect x="40.9" y="143.8" width="103.8" height="103.6" fill="none" stroke="#000" stroke-width="1.1"/><path d="M36.30 144.00H40.90 M36.30 184.47H40.90 M36.30 224.94H40.90 M41.10 247.40V252.00 M122.20 247.40V252.00" stroke="#000" stroke-width="1.0" fill="none"/><svg x="156.9" y="143.8" width="103.8" height="103.6" viewBox="0 0 526 526" preserveAspectRatio="none" overflow="hidden"><rect width="526" height="526" fill="#21918c"/>
<defs><filter id="c2d" x="-20%" y="-20%" width="140%" height="140%"><feTurbulence type="fractalNoise" baseFrequency="0.035" numOctaves="2" seed="7" result="t"/><feDisplacementMap in="SourceGraphic" in2="t" scale="9" xChannelSelector="R" yChannelSelector="G"/></filter></defs>
<g filter="url(#c2d)">
<g fill="#fde725"><rect x="28.4" y="5.3" width="35.3" height="31.4" rx="13.2" ry="11.8"/><rect x="126.5" y="1.3" width="51.0" height="25.5" rx="19.1" ry="9.6"/><rect x="238.3" y="33.3" width="27.4" height="27.4" rx="10.3" ry="10.3"/><rect x="315.3" y="-0.8" width="25.5" height="15.7" rx="9.6" ry="5.9"/><rect x="172.6" y="69.4" width="62.7" height="35.3" rx="23.5" ry="13.2"/><rect x="439.8" y="5.5" width="80.4" height="45.1" rx="30.1" ry="16.9" transform="rotate(-10 480 28)"/><rect x="369.7" y="54.4" width="66.6" height="43.1" rx="25.0" ry="16.2"/><rect x="469.4" y="56.3" width="41.2" height="33.3" rx="15.4" ry="12.5"/><rect x="496.3" y="106.5" width="29.4" height="47.0" rx="11.0" ry="17.6"/><rect x="-1.7" y="79.4" width="31.4" height="41.2" rx="11.8" ry="15.4"/><rect x="19.7" y="166.4" width="70.6" height="41.2" rx="26.5" ry="15.4"/><rect x="99.6" y="176.4" width="60.8" height="41.2" rx="22.8" ry="15.4"/><rect x="195.5" y="232.4" width="45.1" height="35.3" rx="16.9" ry="13.2"/><rect x="225.3" y="213.3" width="25.5" height="33.3" rx="9.6" ry="12.5"/><rect x="467.5" y="235.3" width="45.1" height="33.3" rx="16.9" ry="12.5"/><rect x="317.2" y="288.2" width="21.6" height="21.6" rx="8.1" ry="8.1"/><rect x="102.4" y="319.3" width="35.3" height="27.4" rx="13.2" ry="10.3"/><rect x="60.4" y="334.4" width="39.2" height="41.2" rx="14.7" ry="15.4"/><rect x="139.5" y="339.5" width="52.9" height="47.0" rx="19.8" ry="17.6"/><rect x="262.5" y="321.9" width="51.0" height="88.2" rx="19.1" ry="33.1"/><rect x="264.3" y="389.5" width="131.3" height="51.0" rx="49.2" ry="19.1"/><rect x="326.6" y="407.5" width="60.8" height="45.1" rx="22.8" ry="16.9"/><rect x="364.5" y="327.6" width="52.9" height="54.9" rx="19.8" ry="20.6"/><rect x="2.4" y="373.4" width="35.3" height="39.2" rx="13.2" ry="14.7"/><rect x="77.7" y="374.4" width="68.6" height="41.2" rx="25.7" ry="15.4"/><rect x="11.5" y="414.5" width="52.9" height="51.0" rx="19.8" ry="19.1"/><rect x="138.0" y="417.5" width="100.0" height="45.1" rx="37.5" ry="16.9" transform="rotate(-25 188 440)"/><rect x="413.4" y="406.3" width="43.1" height="33.3" rx="16.2" ry="12.5"/><rect x="29.3" y="471.3" width="31.4" height="27.4" rx="11.8" ry="10.3"/><rect x="66.3" y="488.3" width="31.4" height="29.4" rx="11.8" ry="11.0"/><rect x="111.3" y="511.2" width="25.5" height="17.6" rx="9.6" ry="6.6"/><rect x="211.3" y="511.2" width="29.4" height="17.6" rx="11.0" ry="6.6"/><rect x="221.5" y="461.4" width="49.0" height="41.2" rx="18.4" ry="15.4"/><rect x="299.5" y="472.5" width="51.0" height="49.0" rx="19.1" ry="18.4"/><rect x="367.6" y="467.5" width="54.9" height="45.1" rx="20.6" ry="16.9"/><rect x="386.5" y="495.3" width="51.0" height="33.3" rx="19.1" ry="12.5"/><rect x="438.6" y="462.4" width="54.9" height="41.2" rx="20.6" ry="15.4"/><rect x="508.2" y="417.3" width="21.6" height="31.4" rx="8.1" ry="11.8"/></g>
<g fill="#440154"><rect x="255.5" y="103.6" width="49.0" height="62.7" rx="18.4" ry="23.5"/><rect x="77.7" y="232.5" width="64.7" height="45.1" rx="24.3" ry="16.9"/></g>
</g></svg><rect x="156.9" y="143.8" width="103.8" height="103.6" fill="none" stroke="#000" stroke-width="1.1"/><path d="M152.30 144.00H156.90 M152.30 184.47H156.90 M152.30 224.94H156.90 M157.10 247.40V252.00 M238.20 247.40V252.00" stroke="#000" stroke-width="1.0" fill="none"/><svg x="272.9" y="143.8" width="103.8" height="103.6" viewBox="0 0 526 526" preserveAspectRatio="none" overflow="hidden"><defs><filter id="ad2v" x="0" y="0" width="100%" height="100%" color-interpolation-filters="sRGB"><feGaussianBlur in="SourceGraphic" stdDeviation="3" result="f"/><feTurbulence type="fractalNoise" baseFrequency="0.05" numOctaves="2" seed="31" result="t"/><feColorMatrix in="t" type="matrix" values="1 0 0 0 0 1 0 0 0 0 1 0 0 0 0 0 0 0 0 1" result="tn"/><feComposite in="f" in2="tn" operator="arithmetic" k1="0" k2="1.0" k3="0.45" k4="-0.225" result="v"/><feComponentTransfer in="v"><feFuncR type="discrete" tableValues="0.267 0.274 0.279 0.282 0.283 0.282 0.279 0.273 0.267 0.257 0.249 0.239 0.228 0.218 0.207 0.198 0.187 0.179 0.170 0.162 0.155 0.146 0.139 0.131 0.125 0.121 0.119 0.123 0.132 0.147 0.171 0.197 0.233 0.267 0.312 0.352 0.404 0.449 0.497 0.555 0.606 0.668 0.720 0.783 0.835 0.896 0.946 0.993"/><feFuncG type="discrete" tableValues="0.005 0.031 0.062 0.095 0.121 0.151 0.175 0.205 0.228 0.256 0.279 0.301 0.327 0.347 0.372 0.392 0.415 0.434 0.456 0.475 0.493 0.515 0.534 0.556 0.574 0.596 0.615 0.637 0.655 0.673 0.694 0.712 0.732 0.749 0.768 0.783 0.800 0.814 0.826 0.840 0.851 0.862 0.870 0.879 0.886 0.894 0.900 0.906"/><feFuncB type="discrete" tableValues="0.329 0.359 0.387 0.417 0.441 0.465 0.483 0.502 0.514 0.527 0.535 0.541 0.547 0.550 0.553 0.555 0.557 0.557 0.558 0.558 0.558 0.557 0.555 0.552 0.549 0.544 0.538 0.529 0.520 0.509 0.494 0.479 0.459 0.441 0.416 0.393 0.363 0.335 0.306 0.269 0.237 0.196 0.163 0.125 0.103 0.096 0.113 0.144"/><feFuncA type="linear" slope="0" intercept="1"/></feComponentTransfer></filter><filter id="ad2b" x="-50%" y="-50%" width="200%" height="200%"><feGaussianBlur stdDeviation="14"/></filter><filter id="ad2c" x="-50%" y="-50%" width="200%" height="200%"><feGaussianBlur stdDeviation="5"/></filter><filter id="ad2s" x="-50%" y="-50%" width="200%" height="200%"><feGaussianBlur stdDeviation="8"/></filter></defs>
<g filter="url(#ad2v)"><g filter="url(#ad2b)"><rect x="-66.2" y="-66.2" width="66.8" height="66.8" fill="rgb(175,175,175)"/><rect x="-0.5" y="-66.2" width="66.8" height="66.8" fill="rgb(175,175,175)"/><rect x="65.2" y="-66.2" width="66.8" height="66.8" fill="rgb(199,199,199)"/><rect x="131.0" y="-66.2" width="66.8" height="66.8" fill="rgb(190,190,190)"/><rect x="196.8" y="-66.2" width="66.8" height="66.8" fill="rgb(175,175,175)"/><rect x="262.5" y="-66.2" width="66.8" height="66.8" fill="rgb(160,160,160)"/><rect x="328.2" y="-66.2" width="66.8" height="66.8" fill="rgb(129,129,129)"/><rect x="394.0" y="-66.2" width="66.8" height="66.8" fill="rgb(221,221,221)"/><rect x="459.8" y="-66.2" width="66.8" height="66.8" fill="rgb(190,190,190)"/><rect x="525.5" y="-66.2" width="66.8" height="66.8" fill="rgb(190,190,190)"/><rect x="-66.2" y="-0.5" width="66.8" height="66.8" fill="rgb(175,175,175)"/><rect x="-0.5" y="-0.5" width="66.8" height="66.8" fill="rgb(175,175,175)"/><rect x="65.2" y="-0.5" width="66.8" height="66.8" fill="rgb(199,199,199)"/><rect x="131.0" y="-0.5" width="66.8" height="66.8" fill="rgb(190,190,190)"/><rect x="196.8" y="-0.5" width="66.8" height="66.8" fill="rgb(175,175,175)"/><rect x="262.5" y="-0.5" width="66.8" height="66.8" fill="rgb(160,160,160)"/><rect x="328.2" y="-0.5" width="66.8" height="66.8" fill="rgb(129,129,129)"/><rect x="394.0" y="-0.5" width="66.8" height="66.8" fill="rgb(221,221,221)"/><rect x="459.8" y="-0.5" width="66.8" height="66.8" fill="rgb(190,190,190)"/><rect x="525.5" y="-0.5" width="66.8" height="66.8" fill="rgb(190,190,190)"/><rect x="-66.2" y="65.2" width="66.8" height="66.8" fill="rgb(205,205,205)"/><rect x="-0.5" y="65.2" width="66.8" height="66.8" fill="rgb(205,205,205)"/><rect x="65.2" y="65.2" width="66.8" height="66.8" fill="rgb(129,129,129)"/><rect x="131.0" y="65.2" width="66.8" height="66.8" fill="rgb(190,190,190)"/><rect x="196.8" y="65.2" width="66.8" height="66.8" fill="rgb(144,144,144)"/><rect x="262.5" y="65.2" width="66.8" height="66.8" fill="rgb(144,144,144)"/><rect x="328.2" y="65.2" width="66.8" height="66.8" fill="rgb(123,123,123)"/><rect x="394.0" y="65.2" width="66.8" height="66.8" fill="rgb(205,205,205)"/><rect x="459.8" y="65.2" width="66.8" height="66.8" fill="rgb(160,160,160)"/><rect x="525.5" y="65.2" width="66.8" height="66.8" fill="rgb(160,160,160)"/><rect x="-66.2" y="131.0" width="66.8" height="66.8" fill="rgb(221,221,221)"/><rect x="-0.5" y="131.0" width="66.8" height="66.8" fill="rgb(221,221,221)"/><rect x="65.2" y="131.0" width="66.8" height="66.8" fill="rgb(205,205,205)"/><rect x="131.0" y="131.0" width="66.8" height="66.8" fill="rgb(144,144,144)"/><rect x="196.8" y="131.0" width="66.8" height="66.8" fill="rgb(144,144,144)"/><rect x="262.5" y="131.0" width="66.8" height="66.8" fill="rgb(123,123,123)"/><rect x="328.2" y="131.0" width="66.8" height="66.8" fill="rgb(116,116,116)"/><rect x="394.0" y="131.0" width="66.8" height="66.8" fill="rgb(92,92,92)"/><rect x="459.8" y="131.0" width="66.8" height="66.8" fill="rgb(160,160,160)"/><rect x="525.5" y="131.0" width="66.8" height="66.8" fill="rgb(160,160,160)"/><rect x="-66.2" y="196.8" width="66.8" height="66.8" fill="rgb(144,144,144)"/><rect x="-0.5" y="196.8" width="66.8" height="66.8" fill="rgb(144,144,144)"/><rect x="65.2" y="196.8" width="66.8" height="66.8" fill="rgb(190,190,190)"/><rect x="131.0" y="196.8" width="66.8" height="66.8" fill="rgb(129,129,129)"/><rect x="196.8" y="196.8" width="66.8" height="66.8" fill="rgb(199,199,199)"/><rect x="262.5" y="196.8" width="66.8" height="66.8" fill="rgb(129,129,129)"/><rect x="328.2" y="196.8" width="66.8" height="66.8" fill="rgb(123,123,123)"/><rect x="394.0" y="196.8" width="66.8" height="66.8" fill="rgb(144,144,144)"/><rect x="459.8" y="196.8" width="66.8" height="66.8" fill="rgb(205,205,205)"/><rect x="525.5" y="196.8" width="66.8" height="66.8" fill="rgb(205,205,205)"/><rect x="-66.2" y="262.5" width="66.8" height="66.8" fill="rgb(129,129,129)"/><rect x="-0.5" y="262.5" width="66.8" height="66.8" fill="rgb(129,129,129)"/><rect x="65.2" y="262.5" width="66.8" height="66.8" fill="rgb(190,190,190)"/><rect x="131.0" y="262.5" width="66.8" height="66.8" fill="rgb(160,160,160)"/><rect x="196.8" y="262.5" width="66.8" height="66.8" fill="rgb(110,110,110)"/><rect x="262.5" y="262.5" width="66.8" height="66.8" fill="rgb(190,190,190)"/><rect x="328.2" y="262.5" width="66.8" height="66.8" fill="rgb(144,144,144)"/><rect x="394.0" y="262.5" width="66.8" height="66.8" fill="rgb(190,190,190)"/><rect x="459.8" y="262.5" width="66.8" height="66.8" fill="rgb(144,144,144)"/><rect x="525.5" y="262.5" width="66.8" height="66.8" fill="rgb(144,144,144)"/><rect x="-66.2" y="328.2" width="66.8" height="66.8" fill="rgb(190,190,190)"/><rect x="-0.5" y="328.2" width="66.8" height="66.8" fill="rgb(190,190,190)"/><rect x="65.2" y="328.2" width="66.8" height="66.8" fill="rgb(212,212,212)"/><rect x="131.0" y="328.2" width="66.8" height="66.8" fill="rgb(181,181,181)"/><rect x="196.8" y="328.2" width="66.8" height="66.8" fill="rgb(110,110,110)"/><rect x="262.5" y="328.2" width="66.8" height="66.8" fill="rgb(212,212,212)"/><rect x="328.2" y="328.2" width="66.8" height="66.8" fill="rgb(144,144,144)"/><rect x="394.0" y="328.2" width="66.8" height="66.8" fill="rgb(212,212,212)"/><rect x="459.8" y="328.2" width="66.8" height="66.8" fill="rgb(160,160,160)"/><rect x="525.5" y="328.2" width="66.8" height="66.8" fill="rgb(160,160,160)"/><rect x="-66.2" y="394.0" width="66.8" height="66.8" fill="rgb(144,144,144)"/><rect x="-0.5" y="394.0" width="66.8" height="66.8" fill="rgb(144,144,144)"/><rect x="65.2" y="394.0" width="66.8" height="66.8" fill="rgb(212,212,212)"/><rect x="131.0" y="394.0" width="66.8" height="66.8" fill="rgb(212,212,212)"/><rect x="196.8" y="394.0" width="66.8" height="66.8" fill="rgb(144,144,144)"/><rect x="262.5" y="394.0" width="66.8" height="66.8" fill="rgb(175,175,175)"/><rect x="328.2" y="394.0" width="66.8" height="66.8" fill="rgb(190,190,190)"/><rect x="394.0" y="394.0" width="66.8" height="66.8" fill="rgb(199,199,199)"/><rect x="459.8" y="394.0" width="66.8" height="66.8" fill="rgb(160,160,160)"/><rect x="525.5" y="394.0" width="66.8" height="66.8" fill="rgb(160,160,160)"/><rect x="-66.2" y="459.8" width="66.8" height="66.8" fill="rgb(101,101,101)"/><rect x="-0.5" y="459.8" width="66.8" height="66.8" fill="rgb(101,101,101)"/><rect x="65.2" y="459.8" width="66.8" height="66.8" fill="rgb(190,190,190)"/><rect x="131.0" y="459.8" width="66.8" height="66.8" fill="rgb(212,212,212)"/><rect x="196.8" y="459.8" width="66.8" height="66.8" fill="rgb(199,199,199)"/><rect x="262.5" y="459.8" width="66.8" height="66.8" fill="rgb(160,160,160)"/><rect x="328.2" y="459.8" width="66.8" height="66.8" fill="rgb(190,190,190)"/><rect x="394.0" y="459.8" width="66.8" height="66.8" fill="rgb(175,175,175)"/><rect x="459.8" y="459.8" width="66.8" height="66.8" fill="rgb(160,160,160)"/><rect x="525.5" y="459.8" width="66.8" height="66.8" fill="rgb(160,160,160)"/><rect x="-66.2" y="525.5" width="66.8" height="66.8" fill="rgb(101,101,101)"/><rect x="-0.5" y="525.5" width="66.8" height="66.8" fill="rgb(101,101,101)"/><rect x="65.2" y="525.5" width="66.8" height="66.8" fill="rgb(190,190,190)"/><rect x="131.0" y="525.5" width="66.8" height="66.8" fill="rgb(212,212,212)"/><rect x="196.8" y="525.5" width="66.8" height="66.8" fill="rgb(199,199,199)"/><rect x="262.5" y="525.5" width="66.8" height="66.8" fill="rgb(160,160,160)"/><rect x="328.2" y="525.5" width="66.8" height="66.8" fill="rgb(190,190,190)"/><rect x="394.0" y="525.5" width="66.8" height="66.8" fill="rgb(175,175,175)"/><rect x="459.8" y="525.5" width="66.8" height="66.8" fill="rgb(160,160,160)"/><rect x="525.5" y="525.5" width="66.8" height="66.8" fill="rgb(160,160,160)"/></g>
<g fill="rgb(97,97,97)" opacity="0.45" filter="url(#ad2s)"><rect x="23.3" y="-23.7" width="33.3" height="29.4" rx="12.5" ry="11.0"/><rect x="121.5" y="-27.8" width="49.0" height="23.5" rx="18.4" ry="8.8"/><rect x="233.3" y="4.3" width="25.5" height="25.5" rx="9.6" ry="9.6"/><rect x="310.2" y="-29.9" width="23.5" height="13.7" rx="8.8" ry="5.1"/><rect x="167.6" y="40.3" width="60.8" height="33.3" rx="22.8" ry="12.5"/><rect x="434.8" y="-23.6" width="78.4" height="43.1" rx="29.4" ry="16.2" transform="rotate(-10 474 -2)"/><rect x="364.7" y="25.4" width="64.7" height="41.2" rx="24.3" ry="15.4"/><rect x="464.4" y="27.3" width="39.2" height="31.4" rx="14.7" ry="11.8"/><rect x="491.3" y="77.5" width="27.4" height="45.1" rx="10.3" ry="16.9"/><rect x="-6.7" y="50.4" width="29.4" height="39.2" rx="11.0" ry="14.7"/><rect x="14.7" y="137.4" width="68.6" height="39.2" rx="25.7" ry="14.7"/><rect x="94.6" y="147.4" width="58.8" height="39.2" rx="22.0" ry="14.7"/><rect x="190.4" y="203.3" width="43.1" height="33.3" rx="16.2" ry="12.5"/><rect x="220.2" y="184.3" width="23.5" height="31.4" rx="8.8" ry="11.8"/><rect x="462.4" y="206.3" width="43.1" height="31.4" rx="16.2" ry="11.8"/><rect x="312.2" y="259.2" width="19.6" height="19.6" rx="7.4" ry="7.4"/><rect x="97.3" y="290.3" width="33.3" height="25.5" rx="12.5" ry="9.6"/><rect x="55.4" y="305.4" width="37.2" height="39.2" rx="14.0" ry="14.7"/><rect x="134.5" y="310.5" width="51.0" height="45.1" rx="19.1" ry="16.9"/><rect x="257.5" y="292.9" width="49.0" height="86.2" rx="18.4" ry="32.3"/><rect x="259.3" y="360.5" width="129.4" height="49.0" rx="48.5" ry="18.4"/><rect x="321.6" y="378.4" width="58.8" height="43.1" rx="22.0" ry="16.2"/><rect x="359.5" y="298.5" width="51.0" height="52.9" rx="19.1" ry="19.8"/><rect x="-2.7" y="344.4" width="33.3" height="37.2" rx="12.5" ry="14.0"/><rect x="72.7" y="345.4" width="66.6" height="39.2" rx="25.0" ry="14.7"/><rect x="6.5" y="385.5" width="51.0" height="49.0" rx="19.1" ry="18.4"/><rect x="133.0" y="388.4" width="98.0" height="43.1" rx="36.8" ry="16.2" transform="rotate(-25 182 410)"/><rect x="408.4" y="377.3" width="41.2" height="31.4" rx="15.4" ry="11.8"/><rect x="24.3" y="442.3" width="29.4" height="25.5" rx="11.0" ry="9.6"/><rect x="61.3" y="459.3" width="29.4" height="27.4" rx="11.0" ry="10.3"/><rect x="106.2" y="482.2" width="23.5" height="15.7" rx="8.8" ry="5.9"/><rect x="206.3" y="482.2" width="27.4" height="15.7" rx="10.3" ry="5.9"/><rect x="216.5" y="432.4" width="47.0" height="39.2" rx="17.6" ry="14.7"/><rect x="294.5" y="443.5" width="49.0" height="47.0" rx="18.4" ry="17.6"/><rect x="362.5" y="438.4" width="52.9" height="43.1" rx="19.8" ry="16.2"/><rect x="381.5" y="466.3" width="49.0" height="31.4" rx="18.4" ry="11.8"/><rect x="433.5" y="433.4" width="52.9" height="39.2" rx="19.8" ry="14.7"/><rect x="503.2" y="388.3" width="19.6" height="29.4" rx="7.4" ry="11.0"/></g>
<g fill="rgb(204,204,204)" opacity="0.8" filter="url(#ad2c)"><rect x="21.5" y="-1.5" width="49.0" height="45.1" rx="18.4" ry="16.9"/><rect x="119.7" y="-5.6" width="64.7" height="39.2" rx="24.3" ry="14.7"/><rect x="231.4" y="26.4" width="41.2" height="41.2" rx="15.4" ry="15.4"/><rect x="308.4" y="-7.7" width="39.2" height="29.4" rx="14.7" ry="11.0"/><rect x="165.8" y="62.5" width="76.4" height="49.0" rx="28.7" ry="18.4"/><rect x="433.0" y="-1.4" width="94.1" height="58.8" rx="35.3" ry="22.0" transform="rotate(-10 480 28)"/><rect x="362.8" y="47.6" width="80.4" height="56.8" rx="30.1" ry="21.3"/><rect x="462.6" y="49.5" width="54.9" height="47.0" rx="20.6" ry="17.6"/><rect x="489.4" y="99.6" width="43.1" height="60.8" rx="16.2" ry="22.8"/><rect x="-8.5" y="72.6" width="45.1" height="54.9" rx="16.9" ry="20.6"/><rect x="12.9" y="159.6" width="84.3" height="54.9" rx="31.6" ry="20.6"/><rect x="92.8" y="169.6" width="74.5" height="54.9" rx="27.9" ry="20.6"/><rect x="188.6" y="225.5" width="58.8" height="49.0" rx="22.0" ry="18.4"/><rect x="218.4" y="206.5" width="39.2" height="47.0" rx="14.7" ry="17.6"/><rect x="460.6" y="228.5" width="58.8" height="47.0" rx="22.0" ry="17.6"/><rect x="310.4" y="281.4" width="35.3" height="35.3" rx="13.2" ry="13.2"/><rect x="95.5" y="312.4" width="49.0" height="41.2" rx="18.4" ry="15.4"/><rect x="53.5" y="327.6" width="52.9" height="54.9" rx="19.8" ry="20.6"/><rect x="132.7" y="332.6" width="66.6" height="60.8" rx="25.0" ry="22.8"/><rect x="255.7" y="315.0" width="64.7" height="101.9" rx="24.3" ry="38.2"/><rect x="257.5" y="382.7" width="145.0" height="64.7" rx="54.4" ry="24.3"/><rect x="319.8" y="400.6" width="74.5" height="58.8" rx="27.9" ry="22.0"/><rect x="357.7" y="320.7" width="66.6" height="68.6" rx="25.0" ry="25.7"/><rect x="-4.5" y="366.5" width="49.0" height="52.9" rx="18.4" ry="19.8"/><rect x="70.8" y="367.6" width="82.3" height="54.9" rx="30.9" ry="20.6"/><rect x="4.7" y="407.7" width="66.6" height="64.7" rx="25.0" ry="24.3"/><rect x="131.2" y="410.6" width="113.7" height="58.8" rx="42.6" ry="22.0" transform="rotate(-25 188 440)"/><rect x="406.6" y="399.5" width="56.8" height="47.0" rx="21.3" ry="17.6"/><rect x="22.5" y="464.4" width="45.1" height="41.2" rx="16.9" ry="15.4"/><rect x="59.5" y="481.4" width="45.1" height="43.1" rx="16.9" ry="16.2"/><rect x="104.4" y="504.3" width="39.2" height="31.4" rx="14.7" ry="11.8"/><rect x="204.4" y="504.3" width="43.1" height="31.4" rx="16.2" ry="11.8"/><rect x="214.6" y="454.6" width="62.7" height="54.9" rx="23.5" ry="20.6"/><rect x="292.7" y="465.6" width="64.7" height="62.7" rx="24.3" ry="23.5"/><rect x="360.7" y="460.6" width="68.6" height="58.8" rx="25.7" ry="22.0"/><rect x="379.7" y="488.5" width="64.7" height="47.0" rx="24.3" ry="17.6"/><rect x="431.7" y="455.6" width="68.6" height="54.9" rx="25.7" ry="20.6"/><rect x="501.4" y="410.5" width="35.3" height="45.1" rx="13.2" ry="16.9"/></g>
</g>
<g fill="#3b2a6e" opacity="0.8"><circle cx="268" cy="120" r="4"/><circle cx="290" cy="128" r="4"/><circle cx="275" cy="150" r="4"/><circle cx="300" cy="145" r="4"/><circle cx="262" cy="140" r="4"/><circle cx="100" cy="245" r="4"/><circle cx="120" cy="250" r="4"/><circle cx="110" cy="262" r="4"/><circle cx="132" cy="258" r="4"/></g></svg><rect x="272.9" y="143.8" width="103.8" height="103.6" fill="none" stroke="#000" stroke-width="1.1"/><path d="M268.30 144.00H272.90 M268.30 184.47H272.90 M268.30 224.94H272.90 M273.10 247.40V252.00 M354.20 247.40V252.00" stroke="#000" stroke-width="1.0" fill="none"/><svg x="388.9" y="143.8" width="103.8" height="103.6" viewBox="0 0 526 526" preserveAspectRatio="none" overflow="hidden"><defs><filter id="g2v" x="0" y="0" width="100%" height="100%" color-interpolation-filters="sRGB"><feGaussianBlur in="SourceGraphic" stdDeviation="3" result="f"/><feTurbulence type="fractalNoise" baseFrequency="0.06" numOctaves="3" seed="41" result="t"/><feColorMatrix in="t" type="matrix" values="1 0 0 0 0 1 0 0 0 0 1 0 0 0 0 0 0 0 0 1" result="tn"/><feComposite in="f" in2="tn" operator="arithmetic" k1="0" k2="1.15" k3="2.4" k4="-1.24" result="v"/><feComponentTransfer in="v"><feFuncR type="discrete" tableValues="0.267 0.274 0.279 0.282 0.283 0.282 0.279 0.273 0.267 0.257 0.249 0.239 0.228 0.218 0.207 0.198 0.187 0.179 0.170 0.162 0.155 0.146 0.139 0.131 0.125 0.121 0.119 0.123 0.132 0.147 0.171 0.197 0.233 0.267 0.312 0.352 0.404 0.449 0.497 0.555 0.606 0.668 0.720 0.783 0.835 0.896 0.946 0.993"/><feFuncG type="discrete" tableValues="0.005 0.031 0.062 0.095 0.121 0.151 0.175 0.205 0.228 0.256 0.279 0.301 0.327 0.347 0.372 0.392 0.415 0.434 0.456 0.475 0.493 0.515 0.534 0.556 0.574 0.596 0.615 0.637 0.655 0.673 0.694 0.712 0.732 0.749 0.768 0.783 0.800 0.814 0.826 0.840 0.851 0.862 0.870 0.879 0.886 0.894 0.900 0.906"/><feFuncB type="discrete" tableValues="0.329 0.359 0.387 0.417 0.441 0.465 0.483 0.502 0.514 0.527 0.535 0.541 0.547 0.550 0.553 0.555 0.557 0.557 0.558 0.558 0.558 0.557 0.555 0.552 0.549 0.544 0.538 0.529 0.520 0.509 0.494 0.479 0.459 0.441 0.416 0.393 0.363 0.335 0.306 0.269 0.237 0.196 0.163 0.125 0.103 0.096 0.113 0.144"/><feFuncA type="linear" slope="0" intercept="1"/></feComponentTransfer></filter><filter id="g2b" x="-50%" y="-50%" width="200%" height="200%"><feGaussianBlur stdDeviation="9"/></filter></defs>
<g filter="url(#g2v)">
<rect x="-20" y="-20" width="566" height="566" fill="rgb(31,31,31)"/>
<g filter="url(#g2b)"><ellipse cx="197" cy="50" rx="30" ry="40" fill="rgb(191,191,191)"/><ellipse cx="12" cy="65" rx="18" ry="38" fill="rgb(191,191,191)"/><ellipse cx="85" cy="158" rx="75" ry="42" fill="rgb(204,204,204)"/><ellipse cx="217" cy="212" rx="33" ry="38" fill="rgb(199,199,199)"/><ellipse cx="395" cy="42" rx="28" ry="33" fill="rgb(204,204,204)"/><ellipse cx="490" cy="40" rx="38" ry="35" fill="rgb(184,184,184)"/><ellipse cx="278" cy="92" rx="15" ry="18" fill="rgb(178,178,178)"/><ellipse cx="507" cy="110" rx="20" ry="35" fill="rgb(178,178,178)"/><ellipse cx="483" cy="215" rx="30" ry="35" fill="rgb(204,204,204)"/><ellipse cx="112" cy="35" rx="38" ry="25" fill="rgb(115,115,115)"/><ellipse cx="340" cy="100" rx="48" ry="50" fill="rgb(97,97,97)"/><ellipse cx="72" cy="386" rx="36" ry="118" fill="rgb(191,191,191)" transform="rotate(-15 72 386)"/><ellipse cx="186" cy="448" rx="45" ry="75" fill="rgb(191,191,191)" transform="rotate(-20 186 448)"/><ellipse cx="282" cy="395" rx="34" ry="128" fill="rgb(184,184,184)" transform="rotate(-12 282 395)"/><ellipse cx="392" cy="405" rx="58" ry="118" fill="rgb(184,184,184)" transform="rotate(-15 392 405)"/><ellipse cx="492" cy="425" rx="36" ry="98" fill="rgb(173,173,173)" transform="rotate(-10 492 425)"/><ellipse cx="10" cy="300" rx="15" ry="40" fill="rgb(153,153,153)"/><ellipse cx="120" cy="300" rx="30" ry="30" fill="rgb(140,140,140)"/></g>
</g></svg><rect x="388.9" y="143.8" width="103.8" height="103.6" fill="none" stroke="#000" stroke-width="1.1"/><path d="M384.30 144.00H388.90 M384.30 184.47H388.90 M384.30 224.94H388.90 M389.10 247.40V252.00 M470.20 247.40V252.00" stroke="#000" stroke-width="1.0" fill="none"/><svg x="156.9" y="278.7" width="103.8" height="103.6" viewBox="0 0 526 526" preserveAspectRatio="none" overflow="hidden"><defs><filter id="k1v" x="0" y="0" width="100%" height="100%" color-interpolation-filters="sRGB"><feGaussianBlur in="SourceGraphic" stdDeviation="1.5" result="f"/><feTurbulence type="fractalNoise" baseFrequency="0.08" numOctaves="2" seed="51" result="t"/><feColorMatrix in="t" type="matrix" values="1 0 0 0 0 1 0 0 0 0 1 0 0 0 0 0 0 0 0 1" result="tn"/><feComposite in="f" in2="tn" operator="arithmetic" k1="0" k2="1.3" k3="0.5" k4="-0.41000000000000003" result="v"/><feComponentTransfer in="v"><feFuncR type="discrete" tableValues="0.267 0.274 0.279 0.282 0.283 0.282 0.279 0.273 0.267 0.257 0.249 0.239 0.228 0.218 0.207 0.198 0.187 0.179 0.170 0.162 0.155 0.146 0.139 0.131 0.125 0.121 0.119 0.123 0.132 0.147 0.171 0.197 0.233 0.267 0.312 0.352 0.404 0.449 0.497 0.555 0.606 0.668 0.720 0.783 0.835 0.896 0.946 0.993"/><feFuncG type="discrete" tableValues="0.005 0.031 0.062 0.095 0.121 0.151 0.175 0.205 0.228 0.256 0.279 0.301 0.327 0.347 0.372 0.392 0.415 0.434 0.456 0.475 0.493 0.515 0.534 0.556 0.574 0.596 0.615 0.637 0.655 0.673 0.694 0.712 0.732 0.749 0.768 0.783 0.800 0.814 0.826 0.840 0.851 0.862 0.870 0.879 0.886 0.894 0.900 0.906"/><feFuncB type="discrete" tableValues="0.329 0.359 0.387 0.417 0.441 0.465 0.483 0.502 0.514 0.527 0.535 0.541 0.547 0.550 0.553 0.555 0.557 0.557 0.558 0.558 0.558 0.557 0.555 0.552 0.549 0.544 0.538 0.529 0.520 0.509 0.494 0.479 0.459 0.441 0.416 0.393 0.363 0.335 0.306 0.269 0.237 0.196 0.163 0.125 0.103 0.096 0.113 0.144"/><feFuncA type="linear" slope="0" intercept="1"/></feComponentTransfer></filter><filter id="k1h" x="-50%" y="-50%" width="200%" height="200%"><feGaussianBlur stdDeviation="5"/></filter></defs>
<g filter="url(#k1v)">
<rect x="-20" y="-20" width="566" height="566" fill="rgb(0,0,0)"/>
<rect x="258.8" y="104.1" width="42.3" height="57.7" rx="15.9" ry="21.6" fill="rgb(255,255,255)"/>
<rect x="78.3" y="243.1" width="53.3" height="23.7" rx="20.0" ry="8.9" fill="rgb(178,178,178)"/>
<rect x="99.2" y="244.2" width="37.6" height="21.6" rx="14.1" ry="8.1" fill="rgb(255,255,255)"/>
<circle cx="345" cy="433" r="4" fill="rgb(204,204,204)"/>
<circle cx="40" cy="190" r="6" fill="rgb(31,31,31)"/>
<circle cx="380" cy="75" r="8" fill="rgb(26,26,26)"/>
</g></svg><rect x="156.9" y="278.7" width="103.8" height="103.6" fill="none" stroke="#000" stroke-width="1.1"/><path d="M152.30 278.90H156.90 M152.30 319.37H156.90 M152.30 359.84H156.90 M157.10 382.30V386.90 M238.20 382.30V386.90" stroke="#000" stroke-width="1.0" fill="none"/><svg x="272.9" y="278.7" width="103.8" height="103.6" viewBox="0 0 526 526" preserveAspectRatio="none" overflow="hidden"><defs><filter id="r1v" x="0" y="0" width="100%" height="100%" color-interpolation-filters="sRGB"><feGaussianBlur in="SourceGraphic" stdDeviation="1.5" result="f"/><feTurbulence type="fractalNoise" baseFrequency="0.045" numOctaves="2" seed="55" result="t"/><feColorMatrix in="t" type="matrix" values="1 0 0 0 0 1 0 0 0 0 1 0 0 0 0 0 0 0 0 1" result="tn"/><feComposite in="f" in2="tn" operator="arithmetic" k1="0" k2="1.3" k3="0.7" k4="-0.44999999999999996" result="v"/><feComponentTransfer in="v"><feFuncR type="discrete" tableValues="0.267 0.274 0.279 0.282 0.283 0.282 0.279 0.273 0.267 0.257 0.249 0.239 0.228 0.218 0.207 0.198 0.187 0.179 0.170 0.162 0.155 0.146 0.139 0.131 0.125 0.121 0.119 0.123 0.132 0.147 0.171 0.197 0.233 0.267 0.312 0.352 0.404 0.449 0.497 0.555 0.606 0.668 0.720 0.783 0.835 0.896 0.946 0.993"/><feFuncG type="discrete" tableValues="0.005 0.031 0.062 0.095 0.121 0.151 0.175 0.205 0.228 0.256 0.279 0.301 0.327 0.347 0.372 0.392 0.415 0.434 0.456 0.475 0.493 0.515 0.534 0.556 0.574 0.596 0.615 0.637 0.655 0.673 0.694 0.712 0.732 0.749 0.768 0.783 0.800 0.814 0.826 0.840 0.851 0.862 0.870 0.879 0.886 0.894 0.900 0.906"/><feFuncB type="discrete" tableValues="0.329 0.359 0.387 0.417 0.441 0.465 0.483 0.502 0.514 0.527 0.535 0.541 0.547 0.550 0.553 0.555 0.557 0.557 0.558 0.558 0.558 0.557 0.555 0.552 0.549 0.544 0.538 0.529 0.520 0.509 0.494 0.479 0.459 0.441 0.416 0.393 0.363 0.335 0.306 0.269 0.237 0.196 0.163 0.125 0.103 0.096 0.113 0.144"/><feFuncA type="linear" slope="0" intercept="1"/></feComponentTransfer></filter><filter id="r1h" x="-50%" y="-50%" width="200%" height="200%"><feGaussianBlur stdDeviation="5"/></filter></defs>
<g filter="url(#r1v)">
<rect x="-20" y="-20" width="566" height="566" fill="rgb(0,0,0)"/>
<g fill="rgb(26,26,26)" filter="url(#r1h)"><rect x="31.8" y="8.5" width="28.3" height="25.0" rx="10.6" ry="9.4"/><rect x="131.2" y="4.0" width="41.6" height="20.0" rx="15.6" ry="7.5"/><rect x="241.2" y="36.2" width="21.7" height="21.7" rx="8.1" ry="8.1"/><rect x="318.0" y="1.2" width="20.0" height="11.7" rx="7.5" ry="4.4"/><rect x="178.2" y="72.8" width="51.6" height="28.3" rx="19.4" ry="10.6"/><rect x="446.7" y="9.7" width="66.6" height="36.7" rx="25.0" ry="13.7" transform="rotate(-10 480 28)"/><rect x="375.5" y="58.5" width="55.0" height="35.0" rx="20.6" ry="13.1"/><rect x="473.3" y="59.7" width="33.3" height="26.7" rx="12.5" ry="10.0"/><rect x="499.3" y="110.8" width="23.3" height="38.3" rx="8.7" ry="14.4"/><rect x="1.5" y="83.3" width="25.0" height="33.3" rx="9.4" ry="12.5"/><rect x="25.8" y="170.3" width="58.3" height="33.3" rx="21.9" ry="12.5"/><rect x="105.0" y="180.3" width="50.0" height="33.3" rx="18.7" ry="12.5"/><rect x="199.7" y="235.8" width="36.7" height="28.3" rx="13.7" ry="10.6"/><rect x="228.0" y="216.7" width="20.0" height="26.7" rx="7.5" ry="10.0"/><rect x="471.7" y="238.7" width="36.7" height="26.7" rx="13.7" ry="10.0"/><rect x="319.7" y="290.7" width="16.7" height="16.7" rx="6.2" ry="6.2"/><rect x="105.8" y="322.2" width="28.3" height="21.7" rx="10.6" ry="8.1"/><rect x="64.2" y="338.3" width="31.7" height="33.3" rx="11.9" ry="12.5"/><rect x="144.3" y="343.8" width="43.3" height="38.3" rx="16.2" ry="14.4"/><rect x="267.2" y="329.3" width="41.6" height="73.3" rx="15.6" ry="27.5"/><rect x="275.0" y="394.2" width="110.0" height="41.6" rx="41.2" ry="15.6"/><rect x="332.0" y="411.7" width="50.0" height="36.7" rx="18.7" ry="13.7"/><rect x="369.3" y="332.5" width="43.3" height="45.0" rx="16.2" ry="16.9"/><rect x="5.8" y="377.2" width="28.3" height="31.7" rx="10.6" ry="11.9"/><rect x="83.7" y="378.3" width="56.6" height="33.3" rx="21.2" ry="12.5"/><rect x="16.3" y="419.2" width="43.3" height="41.6" rx="16.2" ry="15.6"/><rect x="146.3" y="421.7" width="83.3" height="36.7" rx="31.2" ry="13.7" transform="rotate(-25 188 440)"/><rect x="417.5" y="409.7" width="35.0" height="26.7" rx="13.1" ry="10.0"/><rect x="32.5" y="474.2" width="25.0" height="21.7" rx="9.4" ry="8.1"/><rect x="69.5" y="491.3" width="25.0" height="23.3" rx="9.4" ry="8.7"/><rect x="114.0" y="513.3" width="20.0" height="13.3" rx="7.5" ry="5.0"/><rect x="214.3" y="513.3" width="23.3" height="13.3" rx="8.7" ry="5.0"/><rect x="226.0" y="465.3" width="40.0" height="33.3" rx="15.0" ry="12.5"/><rect x="304.2" y="477.0" width="41.6" height="40.0" rx="15.6" ry="15.0"/><rect x="372.5" y="471.7" width="45.0" height="36.7" rx="16.9" ry="13.7"/><rect x="391.2" y="498.7" width="41.6" height="26.7" rx="15.6" ry="10.0"/><rect x="443.5" y="466.3" width="45.0" height="33.3" rx="16.9" ry="12.5"/><rect x="510.7" y="420.5" width="16.7" height="25.0" rx="6.2" ry="9.4"/></g>
<rect x="262.4" y="109.2" width="35.3" height="51.6" rx="13.2" ry="19.4" fill="rgb(140,140,140)"/>
<rect x="269.4" y="118.3" width="21.2" height="33.4" rx="7.9" ry="12.5" fill="rgb(204,204,204)"/>
<rect x="88.0" y="245.3" width="43.9" height="19.4" rx="16.5" ry="7.3" fill="rgb(89,89,89)"/>
<rect x="104.0" y="248.5" width="22.0" height="12.9" rx="8.2" ry="4.9" fill="rgb(153,153,153)"/>
</g></svg><rect x="272.9" y="278.7" width="103.8" height="103.6" fill="none" stroke="#000" stroke-width="1.1"/><path d="M268.30 278.90H272.90 M268.30 319.37H272.90 M268.30 359.84H272.90 M273.10 382.30V386.90 M354.20 382.30V386.90" stroke="#000" stroke-width="1.0" fill="none"/><svg x="388.9" y="278.7" width="103.8" height="103.6" viewBox="0 0 526 526" preserveAspectRatio="none" overflow="hidden"><defs><filter id="q1v" x="0" y="0" width="100%" height="100%" color-interpolation-filters="sRGB"><feGaussianBlur in="SourceGraphic" stdDeviation="1.5" result="f"/><feTurbulence type="fractalNoise" baseFrequency="0.08" numOctaves="2" seed="53" result="t"/><feColorMatrix in="t" type="matrix" values="1 0 0 0 0 1 0 0 0 0 1 0 0 0 0 0 0 0 0 1" result="tn"/><feComposite in="f" in2="tn" operator="arithmetic" k1="0" k2="1.3" k3="0.5" k4="-0.41000000000000003" result="v"/><feComponentTransfer in="v"><feFuncR type="discrete" tableValues="0.267 0.274 0.279 0.282 0.283 0.282 0.279 0.273 0.267 0.257 0.249 0.239 0.228 0.218 0.207 0.198 0.187 0.179 0.170 0.162 0.155 0.146 0.139 0.131 0.125 0.121 0.119 0.123 0.132 0.147 0.171 0.197 0.233 0.267 0.312 0.352 0.404 0.449 0.497 0.555 0.606 0.668 0.720 0.783 0.835 0.896 0.946 0.993"/><feFuncG type="discrete" tableValues="0.005 0.031 0.062 0.095 0.121 0.151 0.175 0.205 0.228 0.256 0.279 0.301 0.327 0.347 0.372 0.392 0.415 0.434 0.456 0.475 0.493 0.515 0.534 0.556 0.574 0.596 0.615 0.637 0.655 0.673 0.694 0.712 0.732 0.749 0.768 0.783 0.800 0.814 0.826 0.840 0.851 0.862 0.870 0.879 0.886 0.894 0.900 0.906"/><feFuncB type="discrete" tableValues="0.329 0.359 0.387 0.417 0.441 0.465 0.483 0.502 0.514 0.527 0.535 0.541 0.547 0.550 0.553 0.555 0.557 0.557 0.558 0.558 0.558 0.557 0.555 0.552 0.549 0.544 0.538 0.529 0.520 0.509 0.494 0.479 0.459 0.441 0.416 0.393 0.363 0.335 0.306 0.269 0.237 0.196 0.163 0.125 0.103 0.096 0.113 0.144"/><feFuncA type="linear" slope="0" intercept="1"/></feComponentTransfer></filter><filter id="q1h" x="-50%" y="-50%" width="200%" height="200%"><feGaussianBlur stdDeviation="5"/></filter></defs>
<g filter="url(#q1v)">
<rect x="-20" y="-20" width="566" height="566" fill="rgb(0,0,0)"/>
<rect x="257.7" y="107.7" width="44.7" height="54.7" rx="16.8" ry="20.5" fill="rgb(255,255,255)"/>
<rect x="78.3" y="243.1" width="53.3" height="23.7" rx="20.0" ry="8.9" fill="rgb(153,153,153)"/>
<rect x="102.8" y="244.2" width="34.5" height="21.6" rx="12.9" ry="8.1" fill="rgb(255,255,255)"/>
<circle cx="345" cy="433" r="4" fill="rgb(204,204,204)"/>
<circle cx="30" cy="195" r="8" fill="rgb(51,51,51)"/>
<circle cx="375" cy="70" r="6" fill="rgb(38,38,38)"/>
</g></svg><rect x="388.9" y="278.7" width="103.8" height="103.6" fill="none" stroke="#000" stroke-width="1.1"/><path d="M384.30 278.90H388.90 M384.30 319.37H388.90 M384.30 359.84H388.90 M389.10 382.30V386.90 M470.20 382.30V386.90" stroke="#000" stroke-width="1.0" fill="none"/><svg x="156.9" y="394.9" width="103.8" height="103.6" viewBox="0 0 526 526" preserveAspectRatio="none" overflow="hidden"><defs><filter id="k2v" x="0" y="0" width="100%" height="100%" color-interpolation-filters="sRGB"><feGaussianBlur in="SourceGraphic" stdDeviation="3" result="f"/><feTurbulence type="fractalNoise" baseFrequency="0.08" numOctaves="2" seed="11" result="t"/><feColorMatrix in="t" type="matrix" values="1 0 0 0 0 1 0 0 0 0 1 0 0 0 0 0 0 0 0 1" result="tn"/><feComposite in="f" in2="tn" operator="arithmetic" k1="0" k2="1.3" k3="0.9" k4="-0.6" result="v"/><feComponentTransfer in="v"><feFuncR type="discrete" tableValues="0.267 0.274 0.279 0.282 0.283 0.282 0.279 0.273 0.267 0.257 0.249 0.239 0.228 0.218 0.207 0.198 0.187 0.179 0.170 0.162 0.155 0.146 0.139 0.131 0.125 0.121 0.119 0.123 0.132 0.147 0.171 0.197 0.233 0.267 0.312 0.352 0.404 0.449 0.497 0.555 0.606 0.668 0.720 0.783 0.835 0.896 0.946 0.993"/><feFuncG type="discrete" tableValues="0.005 0.031 0.062 0.095 0.121 0.151 0.175 0.205 0.228 0.256 0.279 0.301 0.327 0.347 0.372 0.392 0.415 0.434 0.456 0.475 0.493 0.515 0.534 0.556 0.574 0.596 0.615 0.637 0.655 0.673 0.694 0.712 0.732 0.749 0.768 0.783 0.800 0.814 0.826 0.840 0.851 0.862 0.870 0.879 0.886 0.894 0.900 0.906"/><feFuncB type="discrete" tableValues="0.329 0.359 0.387 0.417 0.441 0.465 0.483 0.502 0.514 0.527 0.535 0.541 0.547 0.550 0.553 0.555 0.557 0.557 0.558 0.558 0.558 0.557 0.555 0.552 0.549 0.544 0.538 0.529 0.520 0.509 0.494 0.479 0.459 0.441 0.416 0.393 0.363 0.335 0.306 0.269 0.237 0.196 0.163 0.125 0.103 0.096 0.113 0.144"/><feFuncA type="linear" slope="0" intercept="1"/></feComponentTransfer></filter><filter id="k2h" x="-50%" y="-50%" width="200%" height="200%"><feGaussianBlur stdDeviation="10"/></filter><filter id="k2d" x="-20%" y="-20%" width="140%" height="140%"><feTurbulence type="fractalNoise" baseFrequency="0.06" numOctaves="2" seed="13" result="t"/><feDisplacementMap in="SourceGraphic" in2="t" scale="18" xChannelSelector="R" yChannelSelector="G"/></filter></defs>
<g filter="url(#k2v)">
<rect x="-20" y="-20" width="566" height="566" fill="#000"/>
<g fill="rgb(56,56,56)" filter="url(#k2h)"><rect x="20.8" y="-23.4" width="38.3" height="36.8" rx="14.4" ry="13.8"/><rect x="117.8" y="-26.7" width="56.3" height="29.4" rx="21.1" ry="11.0"/><rect x="231.3" y="5.1" width="29.3" height="31.8" rx="11.0" ry="11.9"/><rect x="308.5" y="-27.6" width="27.0" height="17.1" rx="10.1" ry="6.4"/><rect x="163.1" y="40.2" width="69.9" height="41.6" rx="26.2" ry="15.6"/><rect x="428.9" y="-24.9" width="90.2" height="53.9" rx="33.8" ry="20.2" transform="rotate(-10 474 2)"/><rect x="359.8" y="24.3" width="74.4" height="51.4" rx="27.9" ry="19.3"/><rect x="461.5" y="27.4" width="45.1" height="39.2" rx="16.9" ry="14.7"/><rect x="489.2" y="75.8" width="31.6" height="56.4" rx="11.8" ry="21.1"/><rect x="-8.9" y="49.5" width="33.8" height="49.0" rx="12.7" ry="18.4"/><rect x="9.6" y="136.5" width="78.9" height="49.0" rx="29.6" ry="18.4"/><rect x="90.2" y="146.5" width="67.6" height="49.0" rx="25.4" ry="18.4"/><rect x="187.2" y="203.2" width="49.6" height="41.6" rx="18.6" ry="15.6"/><rect x="218.5" y="184.4" width="27.0" height="39.2" rx="10.1" ry="14.7"/><rect x="459.2" y="206.4" width="49.6" height="39.2" rx="18.6" ry="14.7"/><rect x="310.7" y="260.8" width="22.5" height="24.5" rx="8.5" ry="9.2"/><rect x="94.8" y="291.1" width="38.3" height="31.8" rx="14.4" ry="11.9"/><rect x="52.6" y="304.5" width="42.8" height="49.0" rx="16.1" ry="18.4"/><rect x="130.7" y="308.8" width="58.6" height="56.4" rx="22.0" ry="21.1"/><rect x="253.8" y="286.1" width="56.3" height="107.8" rx="21.1" ry="40.4"/><rect x="249.6" y="358.4" width="148.8" height="61.2" rx="55.8" ry="23.0"/><rect x="317.2" y="377.1" width="67.6" height="53.9" rx="25.4" ry="20.2"/><rect x="355.7" y="295.9" width="58.6" height="66.2" rx="22.0" ry="24.8"/><rect x="-5.2" y="343.7" width="38.3" height="46.5" rx="14.4" ry="17.5"/><rect x="67.7" y="344.5" width="76.6" height="49.0" rx="28.7" ry="18.4"/><rect x="2.7" y="383.4" width="58.6" height="61.2" rx="22.0" ry="23.0"/><rect x="125.7" y="387.1" width="112.7" height="53.9" rx="42.3" ry="20.2" transform="rotate(-25 182 414)"/><rect x="405.3" y="377.4" width="47.3" height="39.2" rx="17.8" ry="14.7"/><rect x="22.1" y="443.1" width="33.8" height="31.8" rx="12.7" ry="11.9"/><rect x="59.1" y="459.9" width="33.8" height="34.3" rx="12.7" ry="12.9"/><rect x="104.5" y="484.2" width="27.0" height="19.6" rx="10.1" ry="7.4"/><rect x="204.2" y="484.2" width="31.6" height="19.6" rx="11.8" ry="7.4"/><rect x="213.0" y="431.5" width="54.1" height="49.0" rx="20.3" ry="18.4"/><rect x="290.8" y="441.6" width="56.3" height="58.8" rx="21.1" ry="22.0"/><rect x="358.6" y="437.1" width="60.9" height="53.9" rx="22.8" ry="20.2"/><rect x="377.8" y="466.4" width="56.3" height="39.2" rx="21.1" ry="14.7"/><rect x="429.6" y="432.5" width="60.9" height="49.0" rx="22.8" ry="18.4"/><rect x="501.7" y="388.6" width="22.5" height="36.8" rx="8.5" ry="13.8"/></g>
<g filter="url(#k2d)">
<g fill="rgb(140,140,140)"><rect x="19.8" y="4.6" width="44.4" height="40.8" rx="16.6" ry="15.3"/><rect x="118.6" y="0.3" width="58.8" height="35.4" rx="22.0" ry="13.3"/><rect x="229.4" y="32.4" width="37.2" height="37.2" rx="13.9" ry="13.9"/><rect x="306.3" y="-2.2" width="35.4" height="26.3" rx="13.3" ry="9.9"/><rect x="165.2" y="68.8" width="69.6" height="44.4" rx="26.1" ry="16.6"/><rect x="433.1" y="5.3" width="85.8" height="53.4" rx="32.2" ry="20.0" transform="rotate(-10 476 32)"/><rect x="362.4" y="54.2" width="73.2" height="51.6" rx="27.5" ry="19.3"/><rect x="461.1" y="55.7" width="49.8" height="42.6" rx="18.7" ry="16.0"/><rect x="487.5" y="106.4" width="39.0" height="55.2" rx="14.6" ry="20.7"/><rect x="-10.4" y="79.1" width="40.8" height="49.8" rx="15.3" ry="18.7"/><rect x="12.6" y="166.1" width="76.8" height="49.8" rx="28.8" ry="18.7"/><rect x="92.1" y="176.1" width="67.8" height="49.8" rx="25.4" ry="18.7"/><rect x="187.3" y="231.8" width="53.4" height="44.4" rx="20.0" ry="16.6"/><rect x="216.3" y="212.7" width="35.4" height="42.6" rx="13.3" ry="16.0"/><rect x="459.3" y="234.7" width="53.4" height="42.6" rx="20.0" ry="16.0"/><rect x="308.1" y="287.1" width="31.8" height="31.8" rx="11.9" ry="11.9"/><rect x="93.8" y="318.4" width="44.4" height="37.2" rx="16.6" ry="13.9"/><rect x="52.0" y="334.1" width="48.0" height="49.8" rx="18.0" ry="18.7"/><rect x="131.7" y="339.4" width="60.6" height="55.2" rx="22.7" ry="20.7"/><rect x="254.6" y="323.5" width="58.8" height="93.1" rx="22.0" ry="34.9"/><rect x="259.6" y="389.6" width="132.7" height="58.8" rx="49.8" ry="22.0"/><rect x="319.1" y="407.3" width="67.8" height="53.4" rx="25.4" ry="20.0"/><rect x="356.7" y="327.8" width="60.6" height="62.4" rx="22.7" ry="23.4"/><rect x="-6.2" y="373.0" width="44.4" height="48.0" rx="16.6" ry="18.0"/><rect x="70.5" y="374.1" width="75.0" height="49.8" rx="28.1" ry="18.7"/><rect x="3.7" y="414.6" width="60.6" height="58.8" rx="22.7" ry="22.0"/><rect x="132.1" y="417.3" width="103.9" height="53.4" rx="39.0" ry="20.0" transform="rotate(-25 184 444)"/><rect x="405.2" y="405.7" width="51.6" height="42.6" rx="19.3" ry="16.0"/><rect x="20.6" y="470.4" width="40.8" height="37.2" rx="15.3" ry="13.9"/><rect x="57.6" y="487.5" width="40.8" height="39.0" rx="15.3" ry="14.6"/><rect x="102.3" y="509.9" width="35.4" height="28.1" rx="13.3" ry="10.6"/><rect x="202.5" y="509.9" width="39.0" height="28.1" rx="14.6" ry="10.6"/><rect x="213.5" y="461.1" width="57.0" height="49.8" rx="21.4" ry="18.7"/><rect x="291.6" y="472.5" width="58.8" height="57.0" rx="22.0" ry="21.4"/><rect x="359.8" y="467.3" width="62.4" height="53.4" rx="23.4" ry="20.0"/><rect x="378.6" y="494.7" width="58.8" height="42.6" rx="22.0" ry="16.0"/><rect x="430.8" y="462.1" width="62.4" height="49.8" rx="23.4" ry="18.7"/><rect x="499.1" y="416.6" width="31.8" height="40.8" rx="11.9" ry="15.3"/></g>
<g fill="rgb(255,255,255)"><rect x="30.7" y="7.5" width="30.7" height="27.0" rx="11.5" ry="10.1"/><rect x="129.5" y="3.2" width="45.1" height="21.6" rx="16.9" ry="8.1"/><rect x="240.3" y="35.3" width="23.4" height="23.4" rx="8.8" ry="8.8"/><rect x="317.2" y="0.7" width="21.6" height="12.6" rx="8.1" ry="4.7"/><rect x="176.1" y="71.7" width="55.9" height="30.7" rx="21.0" ry="11.5"/><rect x="443.9" y="8.2" width="72.1" height="39.7" rx="27.0" ry="14.9" transform="rotate(-10 480 28)"/><rect x="373.2" y="57.1" width="59.5" height="37.9" rx="22.3" ry="14.2"/><rect x="472.0" y="58.6" width="36.1" height="28.9" rx="13.5" ry="10.8"/><rect x="498.4" y="109.3" width="25.2" height="41.5" rx="9.5" ry="15.6"/><rect x="0.5" y="82.0" width="27.0" height="36.1" rx="10.1" ry="13.5"/><rect x="23.4" y="169.0" width="63.1" height="36.1" rx="23.7" ry="13.5"/><rect x="103.0" y="179.0" width="54.1" height="36.1" rx="20.3" ry="13.5"/><rect x="198.2" y="234.7" width="39.7" height="30.7" rx="14.9" ry="11.5"/><rect x="227.2" y="215.6" width="21.6" height="28.9" rx="8.1" ry="10.8"/><rect x="470.2" y="237.6" width="39.7" height="28.9" rx="14.9" ry="10.8"/><rect x="319.0" y="290.0" width="18.0" height="18.0" rx="6.8" ry="6.8"/><rect x="104.7" y="321.3" width="30.7" height="23.4" rx="11.5" ry="8.8"/><rect x="62.9" y="337.0" width="34.3" height="36.1" rx="12.8" ry="13.5"/><rect x="142.6" y="342.3" width="46.9" height="41.5" rx="17.6" ry="15.6"/><rect x="265.5" y="326.3" width="45.1" height="79.3" rx="16.9" ry="29.8"/><rect x="270.5" y="392.5" width="119.0" height="45.1" rx="44.6" ry="16.9"/><rect x="330.0" y="410.2" width="54.1" height="39.7" rx="20.3" ry="14.9"/><rect x="367.6" y="330.7" width="46.9" height="48.7" rx="17.6" ry="18.3"/><rect x="4.7" y="375.9" width="30.7" height="34.3" rx="11.5" ry="12.8"/><rect x="81.3" y="377.0" width="61.3" height="36.1" rx="23.0" ry="13.5"/><rect x="14.6" y="417.5" width="46.9" height="45.1" rx="17.6" ry="16.9"/><rect x="142.9" y="420.2" width="90.2" height="39.7" rx="33.8" ry="14.9" transform="rotate(-25 188 440)"/><rect x="416.1" y="408.6" width="37.9" height="28.9" rx="14.2" ry="10.8"/><rect x="31.5" y="473.3" width="27.0" height="23.4" rx="10.1" ry="8.8"/><rect x="68.5" y="490.4" width="27.0" height="25.2" rx="10.1" ry="9.5"/><rect x="113.2" y="512.8" width="21.6" height="14.4" rx="8.1" ry="5.4"/><rect x="213.4" y="512.8" width="25.2" height="14.4" rx="9.5" ry="5.4"/><rect x="224.4" y="464.0" width="43.3" height="36.1" rx="16.2" ry="13.5"/><rect x="302.5" y="475.4" width="45.1" height="43.3" rx="16.9" ry="16.2"/><rect x="370.7" y="470.2" width="48.7" height="39.7" rx="18.3" ry="14.9"/><rect x="389.5" y="497.6" width="45.1" height="28.9" rx="16.9" ry="10.8"/><rect x="441.7" y="465.0" width="48.7" height="36.1" rx="18.3" ry="13.5"/><rect x="510.0" y="419.5" width="18.0" height="27.0" rx="6.8" ry="10.1"/></g>
</g>
<g fill="none" stroke-width="9"><rect x="257.7" y="106.1" width="44.7" height="57.7" rx="16.8" ry="21.6" stroke="rgb(191,191,191)"/><rect x="81.8" y="237.8" width="56.4" height="34.5" rx="21.2" ry="12.9" stroke="rgb(140,140,140)"/></g>
</g></svg><rect x="156.9" y="394.9" width="103.8" height="103.6" fill="none" stroke="#000" stroke-width="1.1"/><path d="M152.30 395.10H156.90 M152.30 435.57H156.90 M152.30 476.04H156.90 M157.10 498.50V503.10 M238.20 498.50V503.10" stroke="#000" stroke-width="1.0" fill="none"/><svg x="272.9" y="394.9" width="103.8" height="103.6" viewBox="0 0 526 526" preserveAspectRatio="none" overflow="hidden"><defs><filter id="r2v" x="0" y="0" width="100%" height="100%" color-interpolation-filters="sRGB"><feGaussianBlur in="SourceGraphic" stdDeviation="3" result="f"/><feTurbulence type="fractalNoise" baseFrequency="0.07" numOctaves="2" seed="17" result="t"/><feColorMatrix in="t" type="matrix" values="1 0 0 0 0 1 0 0 0 0 1 0 0 0 0 0 0 0 0 1" result="tn"/><feComposite in="f" in2="tn" operator="arithmetic" k1="0" k2="1.3" k3="0.9" k4="-0.6" result="v"/><feComponentTransfer in="v"><feFuncR type="discrete" tableValues="0.267 0.274 0.279 0.282 0.283 0.282 0.279 0.273 0.267 0.257 0.249 0.239 0.228 0.218 0.207 0.198 0.187 0.179 0.170 0.162 0.155 0.146 0.139 0.131 0.125 0.121 0.119 0.123 0.132 0.147 0.171 0.197 0.233 0.267 0.312 0.352 0.404 0.449 0.497 0.555 0.606 0.668 0.720 0.783 0.835 0.896 0.946 0.993"/><feFuncG type="discrete" tableValues="0.005 0.031 0.062 0.095 0.121 0.151 0.175 0.205 0.228 0.256 0.279 0.301 0.327 0.347 0.372 0.392 0.415 0.434 0.456 0.475 0.493 0.515 0.534 0.556 0.574 0.596 0.615 0.637 0.655 0.673 0.694 0.712 0.732 0.749 0.768 0.783 0.800 0.814 0.826 0.840 0.851 0.862 0.870 0.879 0.886 0.894 0.900 0.906"/><feFuncB type="discrete" tableValues="0.329 0.359 0.387 0.417 0.441 0.465 0.483 0.502 0.514 0.527 0.535 0.541 0.547 0.550 0.553 0.555 0.557 0.557 0.558 0.558 0.558 0.557 0.555 0.552 0.549 0.544 0.538 0.529 0.520 0.509 0.494 0.479 0.459 0.441 0.416 0.393 0.363 0.335 0.306 0.269 0.237 0.196 0.163 0.125 0.103 0.096 0.113 0.144"/><feFuncA type="linear" slope="0" intercept="1"/></feComponentTransfer></filter><filter id="r2h" x="-50%" y="-50%" width="200%" height="200%"><feGaussianBlur stdDeviation="10"/></filter><filter id="r2d" x="-20%" y="-20%" width="140%" height="140%"><feTurbulence type="fractalNoise" baseFrequency="0.06" numOctaves="2" seed="19" result="t"/><feDisplacementMap in="SourceGraphic" in2="t" scale="18" xChannelSelector="R" yChannelSelector="G"/></filter></defs>
<g filter="url(#r2v)">
<rect x="-20" y="-20" width="566" height="566" fill="#000"/>
<g fill="rgb(115,115,115)" filter="url(#r2h)"><rect x="20.8" y="-23.4" width="38.3" height="36.8" rx="14.4" ry="13.8"/><rect x="117.8" y="-26.7" width="56.3" height="29.4" rx="21.1" ry="11.0"/><rect x="231.3" y="5.1" width="29.3" height="31.8" rx="11.0" ry="11.9"/><rect x="308.5" y="-27.6" width="27.0" height="17.1" rx="10.1" ry="6.4"/><rect x="163.1" y="40.2" width="69.9" height="41.6" rx="26.2" ry="15.6"/><rect x="428.9" y="-24.9" width="90.2" height="53.9" rx="33.8" ry="20.2" transform="rotate(-10 474 2)"/><rect x="359.8" y="24.3" width="74.4" height="51.4" rx="27.9" ry="19.3"/><rect x="461.5" y="27.4" width="45.1" height="39.2" rx="16.9" ry="14.7"/><rect x="489.2" y="75.8" width="31.6" height="56.4" rx="11.8" ry="21.1"/><rect x="-8.9" y="49.5" width="33.8" height="49.0" rx="12.7" ry="18.4"/><rect x="9.6" y="136.5" width="78.9" height="49.0" rx="29.6" ry="18.4"/><rect x="90.2" y="146.5" width="67.6" height="49.0" rx="25.4" ry="18.4"/><rect x="187.2" y="203.2" width="49.6" height="41.6" rx="18.6" ry="15.6"/><rect x="218.5" y="184.4" width="27.0" height="39.2" rx="10.1" ry="14.7"/><rect x="459.2" y="206.4" width="49.6" height="39.2" rx="18.6" ry="14.7"/><rect x="310.7" y="260.8" width="22.5" height="24.5" rx="8.5" ry="9.2"/><rect x="94.8" y="291.1" width="38.3" height="31.8" rx="14.4" ry="11.9"/><rect x="52.6" y="304.5" width="42.8" height="49.0" rx="16.1" ry="18.4"/><rect x="130.7" y="308.8" width="58.6" height="56.4" rx="22.0" ry="21.1"/><rect x="253.8" y="286.1" width="56.3" height="107.8" rx="21.1" ry="40.4"/><rect x="249.6" y="358.4" width="148.8" height="61.2" rx="55.8" ry="23.0"/><rect x="317.2" y="377.1" width="67.6" height="53.9" rx="25.4" ry="20.2"/><rect x="355.7" y="295.9" width="58.6" height="66.2" rx="22.0" ry="24.8"/><rect x="-5.2" y="343.7" width="38.3" height="46.5" rx="14.4" ry="17.5"/><rect x="67.7" y="344.5" width="76.6" height="49.0" rx="28.7" ry="18.4"/><rect x="2.7" y="383.4" width="58.6" height="61.2" rx="22.0" ry="23.0"/><rect x="125.7" y="387.1" width="112.7" height="53.9" rx="42.3" ry="20.2" transform="rotate(-25 182 414)"/><rect x="405.3" y="377.4" width="47.3" height="39.2" rx="17.8" ry="14.7"/><rect x="22.1" y="443.1" width="33.8" height="31.8" rx="12.7" ry="11.9"/><rect x="59.1" y="459.9" width="33.8" height="34.3" rx="12.7" ry="12.9"/><rect x="104.5" y="484.2" width="27.0" height="19.6" rx="10.1" ry="7.4"/><rect x="204.2" y="484.2" width="31.6" height="19.6" rx="11.8" ry="7.4"/><rect x="213.0" y="431.5" width="54.1" height="49.0" rx="20.3" ry="18.4"/><rect x="290.8" y="441.6" width="56.3" height="58.8" rx="21.1" ry="22.0"/><rect x="358.6" y="437.1" width="60.9" height="53.9" rx="22.8" ry="20.2"/><rect x="377.8" y="466.4" width="56.3" height="39.2" rx="21.1" ry="14.7"/><rect x="429.6" y="432.5" width="60.9" height="49.0" rx="22.8" ry="18.4"/><rect x="501.7" y="388.6" width="22.5" height="36.8" rx="8.5" ry="13.8"/></g>
<g fill="rgb(107,107,107)" filter="url(#r2h)"><rect x="12.1" y="5.5" width="51.7" height="47.0" rx="19.4" ry="17.6"/><rect x="108.7" y="2.0" width="70.6" height="40.0" rx="26.5" ry="15.0"/><rect x="222.8" y="33.8" width="42.3" height="42.3" rx="15.9" ry="15.9"/><rect x="300.0" y="0.9" width="40.0" height="28.2" rx="15.0" ry="10.6"/><rect x="153.7" y="69.1" width="84.7" height="51.7" rx="31.8" ry="19.4"/><rect x="419.1" y="4.2" width="105.8" height="63.5" rx="39.7" ry="23.8" transform="rotate(-10 472 36)"/><rect x="350.3" y="53.4" width="89.4" height="61.2" rx="33.5" ry="22.9"/><rect x="452.6" y="56.3" width="58.8" height="49.4" rx="22.0" ry="18.5"/><rect x="480.7" y="105.1" width="44.7" height="65.9" rx="16.8" ry="24.7"/><rect x="-17.5" y="78.6" width="47.0" height="58.8" rx="17.6" ry="22.0"/><rect x="-0.0" y="165.6" width="94.1" height="58.8" rx="35.3" ry="22.0"/><rect x="80.8" y="175.6" width="82.3" height="58.8" rx="30.9" ry="22.0"/><rect x="178.2" y="232.1" width="63.5" height="51.7" rx="23.8" ry="19.4"/><rect x="210.0" y="213.3" width="40.0" height="49.4" rx="15.0" ry="18.5"/><rect x="450.2" y="235.3" width="63.5" height="49.4" rx="23.8" ry="18.5"/><rect x="302.4" y="289.4" width="35.3" height="35.3" rx="13.2" ry="13.2"/><rect x="86.1" y="319.8" width="51.7" height="42.3" rx="19.4" ry="15.9"/><rect x="43.8" y="333.6" width="56.4" height="58.8" rx="21.2" ry="22.0"/><rect x="121.5" y="338.1" width="72.9" height="65.9" rx="27.3" ry="24.7"/><rect x="244.7" y="316.4" width="70.6" height="115.2" rx="26.5" ry="43.2"/><rect x="238.5" y="387.7" width="167.0" height="70.6" rx="62.6" ry="26.5"/><rect x="307.8" y="406.2" width="82.3" height="63.5" rx="30.9" ry="23.8"/><rect x="346.5" y="325.4" width="72.9" height="75.3" rx="27.3" ry="28.2"/><rect x="-13.9" y="372.8" width="51.7" height="56.4" rx="19.4" ry="21.2"/><rect x="58.1" y="373.6" width="91.7" height="58.8" rx="34.4" ry="22.0"/><rect x="-6.5" y="412.7" width="72.9" height="70.6" rx="27.3" ry="26.5"/><rect x="115.3" y="416.2" width="129.4" height="63.5" rx="48.5" ry="23.8" transform="rotate(-25 180 448)"/><rect x="396.4" y="406.3" width="61.2" height="49.4" rx="22.9" ry="18.5"/><rect x="13.5" y="471.8" width="47.0" height="42.3" rx="17.6" ry="15.9"/><rect x="50.5" y="488.7" width="47.0" height="44.7" rx="17.6" ry="16.8"/><rect x="96.0" y="512.7" width="40.0" height="30.6" rx="15.0" ry="11.5"/><rect x="195.7" y="512.7" width="44.7" height="30.6" rx="16.8" ry="11.5"/><rect x="203.9" y="460.6" width="68.2" height="58.8" rx="25.6" ry="22.0"/><rect x="281.7" y="470.9" width="70.6" height="68.2" rx="26.5" ry="25.6"/><rect x="349.4" y="466.2" width="75.3" height="63.5" rx="28.2" ry="23.8"/><rect x="368.7" y="495.3" width="70.6" height="49.4" rx="26.5" ry="18.5"/><rect x="420.4" y="461.6" width="75.3" height="58.8" rx="28.2" ry="22.0"/><rect x="493.4" y="417.5" width="35.3" height="47.0" rx="13.2" ry="17.6"/></g>
<g filter="url(#r2d)">
<g fill="rgb(115,115,115)"><rect x="20.1" y="4.9" width="43.7" height="40.2" rx="16.4" ry="15.1"/><rect x="119.1" y="0.6" width="57.8" height="34.9" rx="21.7" ry="13.1"/><rect x="229.7" y="32.7" width="36.7" height="36.7" rx="13.7" ry="13.7"/><rect x="306.6" y="-2.0" width="34.9" height="26.1" rx="13.1" ry="9.8"/><rect x="165.8" y="69.1" width="68.4" height="43.7" rx="25.7" ry="16.4"/><rect x="433.9" y="5.7" width="84.3" height="52.5" rx="31.6" ry="19.7" transform="rotate(-10 476 32)"/><rect x="363.0" y="54.6" width="71.9" height="50.8" rx="27.0" ry="19.0"/><rect x="461.5" y="56.0" width="49.0" height="41.9" rx="18.4" ry="15.7"/><rect x="487.8" y="106.9" width="38.4" height="54.3" rx="14.4" ry="20.4"/><rect x="-10.1" y="79.5" width="40.2" height="49.0" rx="15.1" ry="18.4"/><rect x="13.3" y="166.5" width="75.5" height="49.0" rx="28.3" ry="18.4"/><rect x="92.7" y="176.5" width="66.6" height="49.0" rx="25.0" ry="18.4"/><rect x="187.7" y="232.1" width="52.5" height="43.7" rx="19.7" ry="16.4"/><rect x="216.6" y="213.0" width="34.9" height="41.9" rx="13.1" ry="15.7"/><rect x="459.7" y="235.0" width="52.5" height="41.9" rx="19.7" ry="15.7"/><rect x="308.3" y="287.3" width="31.4" height="31.4" rx="11.8" ry="11.8"/><rect x="94.1" y="318.7" width="43.7" height="36.7" rx="16.4" ry="13.7"/><rect x="52.4" y="334.5" width="47.2" height="49.0" rx="17.7" ry="18.4"/><rect x="132.2" y="339.9" width="59.6" height="54.3" rx="22.3" ry="20.4"/><rect x="255.1" y="324.3" width="57.8" height="91.3" rx="21.7" ry="34.3"/><rect x="260.9" y="390.1" width="130.1" height="57.8" rx="48.8" ry="21.7"/><rect x="319.7" y="407.7" width="66.6" height="52.5" rx="25.0" ry="19.7"/><rect x="357.2" y="328.3" width="59.6" height="61.3" rx="22.3" ry="23.0"/><rect x="-5.9" y="373.4" width="43.7" height="47.2" rx="16.4" ry="17.7"/><rect x="71.2" y="374.5" width="73.7" height="49.0" rx="27.6" ry="18.4"/><rect x="4.2" y="415.1" width="59.6" height="57.8" rx="22.3" ry="21.7"/><rect x="133.0" y="417.7" width="101.9" height="52.5" rx="38.2" ry="19.7" transform="rotate(-25 184 444)"/><rect x="405.6" y="406.0" width="50.8" height="41.9" rx="19.0" ry="15.7"/><rect x="20.9" y="470.7" width="40.2" height="36.7" rx="15.1" ry="13.7"/><rect x="57.9" y="487.8" width="40.2" height="38.4" rx="15.1" ry="14.4"/><rect x="102.6" y="510.1" width="34.9" height="27.8" rx="13.1" ry="10.4"/><rect x="202.8" y="510.1" width="38.4" height="27.8" rx="14.4" ry="10.4"/><rect x="214.0" y="461.5" width="56.1" height="49.0" rx="21.0" ry="18.4"/><rect x="292.1" y="473.0" width="57.8" height="56.1" rx="21.7" ry="21.0"/><rect x="360.3" y="467.7" width="61.3" height="52.5" rx="23.0" ry="19.7"/><rect x="379.1" y="495.0" width="57.8" height="41.9" rx="21.7" ry="15.7"/><rect x="431.3" y="462.5" width="61.3" height="49.0" rx="23.0" ry="18.4"/><rect x="499.3" y="416.9" width="31.4" height="40.2" rx="11.8" ry="15.1"/></g>
<g fill="rgb(230,230,230)"><rect x="33.0" y="9.5" width="26.0" height="22.9" rx="9.7" ry="8.6"/><rect x="132.9" y="4.8" width="38.2" height="18.3" rx="14.3" ry="6.9"/><rect x="242.1" y="37.1" width="19.9" height="19.9" rx="7.5" ry="7.5"/><rect x="318.8" y="1.6" width="18.3" height="10.7" rx="6.9" ry="4.0"/><rect x="180.3" y="74.0" width="47.4" height="26.0" rx="17.8" ry="9.7"/><rect x="449.4" y="11.2" width="61.2" height="33.6" rx="22.9" ry="12.6" transform="rotate(-10 480 28)"/><rect x="377.8" y="59.9" width="50.5" height="32.1" rx="18.9" ry="12.0"/><rect x="474.7" y="60.8" width="30.6" height="24.5" rx="11.5" ry="9.2"/><rect x="500.3" y="112.4" width="21.4" height="35.2" rx="8.0" ry="13.2"/><rect x="2.5" y="84.7" width="22.9" height="30.6" rx="8.6" ry="11.5"/><rect x="28.2" y="171.7" width="53.5" height="30.6" rx="20.1" ry="11.5"/><rect x="107.1" y="181.7" width="45.9" height="30.6" rx="17.2" ry="11.5"/><rect x="201.2" y="237.0" width="33.6" height="26.0" rx="12.6" ry="9.7"/><rect x="228.8" y="217.8" width="18.3" height="24.5" rx="6.9" ry="9.2"/><rect x="473.2" y="239.8" width="33.6" height="24.5" rx="12.6" ry="9.2"/><rect x="320.4" y="291.4" width="15.3" height="15.3" rx="5.7" ry="5.7"/><rect x="107.0" y="323.1" width="26.0" height="19.9" rx="9.7" ry="7.5"/><rect x="65.5" y="339.7" width="29.0" height="30.6" rx="10.9" ry="11.5"/><rect x="146.1" y="345.4" width="39.7" height="35.2" rx="14.9" ry="13.2"/><rect x="268.9" y="332.4" width="38.2" height="67.3" rx="14.3" ry="25.2"/><rect x="279.5" y="395.9" width="100.9" height="38.2" rx="37.8" ry="14.3"/><rect x="334.1" y="413.2" width="45.9" height="33.6" rx="17.2" ry="12.6"/><rect x="371.1" y="334.4" width="39.7" height="41.3" rx="14.9" ry="15.5"/><rect x="7.0" y="378.5" width="26.0" height="29.0" rx="9.7" ry="10.9"/><rect x="86.0" y="379.7" width="52.0" height="30.6" rx="19.5" ry="11.5"/><rect x="18.1" y="420.9" width="39.7" height="38.2" rx="14.9" ry="14.3"/><rect x="149.8" y="423.2" width="76.4" height="33.6" rx="28.7" ry="12.6" transform="rotate(-25 188 440)"/><rect x="418.9" y="410.8" width="32.1" height="24.5" rx="12.0" ry="9.2"/><rect x="33.5" y="475.1" width="22.9" height="19.9" rx="8.6" ry="7.5"/><rect x="70.5" y="492.3" width="22.9" height="21.4" rx="8.6" ry="8.0"/><rect x="114.8" y="513.9" width="18.3" height="12.2" rx="6.9" ry="4.6"/><rect x="215.3" y="513.9" width="21.4" height="12.2" rx="8.0" ry="4.6"/><rect x="227.7" y="466.7" width="36.7" height="30.6" rx="13.8" ry="11.5"/><rect x="305.9" y="478.7" width="38.2" height="36.7" rx="14.3" ry="13.8"/><rect x="374.4" y="473.2" width="41.3" height="33.6" rx="15.5" ry="12.6"/><rect x="392.9" y="499.8" width="38.2" height="24.5" rx="14.3" ry="9.2"/><rect x="445.4" y="467.7" width="41.3" height="30.6" rx="15.5" ry="11.5"/><rect x="511.4" y="421.5" width="15.3" height="22.9" rx="5.7" ry="8.6"/></g>
</g>
<g fill="none" stroke-width="9"><rect x="257.7" y="106.1" width="44.7" height="57.7" rx="16.8" ry="21.6" stroke="rgb(128,128,128)"/><rect x="81.8" y="237.8" width="56.4" height="34.5" rx="21.2" ry="12.9" stroke="rgb(115,115,115)"/></g>
</g></svg><rect x="272.9" y="394.9" width="103.8" height="103.6" fill="none" stroke="#000" stroke-width="1.1"/><path d="M268.30 395.10H272.90 M268.30 435.57H272.90 M268.30 476.04H272.90 M273.10 498.50V503.10 M354.20 498.50V503.10" stroke="#000" stroke-width="1.0" fill="none"/><svg x="388.9" y="394.9" width="103.8" height="103.6" viewBox="0 0 526 526" preserveAspectRatio="none" overflow="hidden"><defs><filter id="q2v" x="0" y="0" width="100%" height="100%" color-interpolation-filters="sRGB"><feGaussianBlur in="SourceGraphic" stdDeviation="3" result="f"/><feTurbulence type="fractalNoise" baseFrequency="0.06" numOctaves="2" seed="13" result="t"/><feColorMatrix in="t" type="matrix" values="1 0 0 0 0 1 0 0 0 0 1 0 0 0 0 0 0 0 0 1" result="tn"/><feComposite in="f" in2="tn" operator="arithmetic" k1="0" k2="1.3" k3="0.6" k4="-0.44999999999999996" result="v"/><feComponentTransfer in="v"><feFuncR type="discrete" tableValues="0.267 0.274 0.279 0.282 0.283 0.282 0.279 0.273 0.267 0.257 0.249 0.239 0.228 0.218 0.207 0.198 0.187 0.179 0.170 0.162 0.155 0.146 0.139 0.131 0.125 0.121 0.119 0.123 0.132 0.147 0.171 0.197 0.233 0.267 0.312 0.352 0.404 0.449 0.497 0.555 0.606 0.668 0.720 0.783 0.835 0.896 0.946 0.993"/><feFuncG type="discrete" tableValues="0.005 0.031 0.062 0.095 0.121 0.151 0.175 0.205 0.228 0.256 0.279 0.301 0.327 0.347 0.372 0.392 0.415 0.434 0.456 0.475 0.493 0.515 0.534 0.556 0.574 0.596 0.615 0.637 0.655 0.673 0.694 0.712 0.732 0.749 0.768 0.783 0.800 0.814 0.826 0.840 0.851 0.862 0.870 0.879 0.886 0.894 0.900 0.906"/><feFuncB type="discrete" tableValues="0.329 0.359 0.387 0.417 0.441 0.465 0.483 0.502 0.514 0.527 0.535 0.541 0.547 0.550 0.553 0.555 0.557 0.557 0.558 0.558 0.558 0.557 0.555 0.552 0.549 0.544 0.538 0.529 0.520 0.509 0.494 0.479 0.459 0.441 0.416 0.393 0.363 0.335 0.306 0.269 0.237 0.196 0.163 0.125 0.103 0.096 0.113 0.144"/><feFuncA type="linear" slope="0" intercept="1"/></feComponentTransfer></filter><filter id="q2h" x="-50%" y="-50%" width="200%" height="200%"><feGaussianBlur stdDeviation="10"/></filter><filter id="q2d" x="-20%" y="-20%" width="140%" height="140%"><feTurbulence type="fractalNoise" baseFrequency="0.06" numOctaves="2" seed="15" result="t"/><feDisplacementMap in="SourceGraphic" in2="t" scale="18" xChannelSelector="R" yChannelSelector="G"/></filter></defs>
<g filter="url(#q2v)">
<rect x="-20" y="-20" width="566" height="566" fill="#000"/>
<g fill="rgb(71,71,71)" filter="url(#q2h)"><rect x="20.8" y="-23.4" width="38.3" height="36.8" rx="14.4" ry="13.8"/><rect x="117.8" y="-26.7" width="56.3" height="29.4" rx="21.1" ry="11.0"/><rect x="231.3" y="5.1" width="29.3" height="31.8" rx="11.0" ry="11.9"/><rect x="308.5" y="-27.6" width="27.0" height="17.1" rx="10.1" ry="6.4"/><rect x="163.1" y="40.2" width="69.9" height="41.6" rx="26.2" ry="15.6"/><rect x="428.9" y="-24.9" width="90.2" height="53.9" rx="33.8" ry="20.2" transform="rotate(-10 474 2)"/><rect x="359.8" y="24.3" width="74.4" height="51.4" rx="27.9" ry="19.3"/><rect x="461.5" y="27.4" width="45.1" height="39.2" rx="16.9" ry="14.7"/><rect x="489.2" y="75.8" width="31.6" height="56.4" rx="11.8" ry="21.1"/><rect x="-8.9" y="49.5" width="33.8" height="49.0" rx="12.7" ry="18.4"/><rect x="9.6" y="136.5" width="78.9" height="49.0" rx="29.6" ry="18.4"/><rect x="90.2" y="146.5" width="67.6" height="49.0" rx="25.4" ry="18.4"/><rect x="187.2" y="203.2" width="49.6" height="41.6" rx="18.6" ry="15.6"/><rect x="218.5" y="184.4" width="27.0" height="39.2" rx="10.1" ry="14.7"/><rect x="459.2" y="206.4" width="49.6" height="39.2" rx="18.6" ry="14.7"/><rect x="310.7" y="260.8" width="22.5" height="24.5" rx="8.5" ry="9.2"/><rect x="94.8" y="291.1" width="38.3" height="31.8" rx="14.4" ry="11.9"/><rect x="52.6" y="304.5" width="42.8" height="49.0" rx="16.1" ry="18.4"/><rect x="130.7" y="308.8" width="58.6" height="56.4" rx="22.0" ry="21.1"/><rect x="253.8" y="286.1" width="56.3" height="107.8" rx="21.1" ry="40.4"/><rect x="249.6" y="358.4" width="148.8" height="61.2" rx="55.8" ry="23.0"/><rect x="317.2" y="377.1" width="67.6" height="53.9" rx="25.4" ry="20.2"/><rect x="355.7" y="295.9" width="58.6" height="66.2" rx="22.0" ry="24.8"/><rect x="-5.2" y="343.7" width="38.3" height="46.5" rx="14.4" ry="17.5"/><rect x="67.7" y="344.5" width="76.6" height="49.0" rx="28.7" ry="18.4"/><rect x="2.7" y="383.4" width="58.6" height="61.2" rx="22.0" ry="23.0"/><rect x="125.7" y="387.1" width="112.7" height="53.9" rx="42.3" ry="20.2" transform="rotate(-25 182 414)"/><rect x="405.3" y="377.4" width="47.3" height="39.2" rx="17.8" ry="14.7"/><rect x="22.1" y="443.1" width="33.8" height="31.8" rx="12.7" ry="11.9"/><rect x="59.1" y="459.9" width="33.8" height="34.3" rx="12.7" ry="12.9"/><rect x="104.5" y="484.2" width="27.0" height="19.6" rx="10.1" ry="7.4"/><rect x="204.2" y="484.2" width="31.6" height="19.6" rx="11.8" ry="7.4"/><rect x="213.0" y="431.5" width="54.1" height="49.0" rx="20.3" ry="18.4"/><rect x="290.8" y="441.6" width="56.3" height="58.8" rx="21.1" ry="22.0"/><rect x="358.6" y="437.1" width="60.9" height="53.9" rx="22.8" ry="20.2"/><rect x="377.8" y="466.4" width="56.3" height="39.2" rx="21.1" ry="14.7"/><rect x="429.6" y="432.5" width="60.9" height="49.0" rx="22.8" ry="18.4"/><rect x="501.7" y="388.6" width="22.5" height="36.8" rx="8.5" ry="13.8"/></g>
<g filter="url(#q2d)">
<g fill="rgb(115,115,115)"><rect x="19.3" y="10.2" width="45.4" height="41.6" rx="17.0" ry="15.6"/><rect x="117.9" y="6.0" width="60.3" height="36.1" rx="22.6" ry="13.5"/><rect x="229.0" y="38.0" width="37.9" height="37.9" rx="14.2" ry="14.2"/><rect x="306.0" y="3.6" width="36.1" height="26.8" rx="13.5" ry="10.0"/><rect x="164.3" y="74.3" width="71.4" height="45.4" rx="26.8" ry="17.0"/><rect x="431.9" y="10.7" width="88.2" height="54.7" rx="33.1" ry="20.5" transform="rotate(-10 476 38)"/><rect x="361.4" y="59.6" width="75.2" height="52.8" rx="28.2" ry="19.8"/><rect x="460.5" y="61.2" width="51.0" height="43.5" rx="19.1" ry="16.3"/><rect x="487.1" y="111.7" width="39.8" height="56.5" rx="14.9" ry="21.2"/><rect x="-10.8" y="84.5" width="41.6" height="51.0" rx="15.6" ry="19.1"/><rect x="11.6" y="171.5" width="78.9" height="51.0" rx="29.6" ry="19.1"/><rect x="91.2" y="181.5" width="69.6" height="51.0" rx="26.1" ry="19.1"/><rect x="186.7" y="237.3" width="54.7" height="45.4" rx="20.5" ry="17.0"/><rect x="216.0" y="218.2" width="36.1" height="43.5" rx="13.5" ry="16.3"/><rect x="458.7" y="240.2" width="54.7" height="43.5" rx="20.5" ry="16.3"/><rect x="307.8" y="292.8" width="32.3" height="32.3" rx="12.1" ry="12.1"/><rect x="93.3" y="324.0" width="45.4" height="37.9" rx="17.0" ry="14.2"/><rect x="51.5" y="339.5" width="49.1" height="51.0" rx="18.4" ry="19.1"/><rect x="130.9" y="344.7" width="62.1" height="56.5" rx="23.3" ry="21.2"/><rect x="253.9" y="328.2" width="60.3" height="95.6" rx="22.6" ry="35.9"/><rect x="257.7" y="394.9" width="136.6" height="60.3" rx="51.2" ry="22.6"/><rect x="318.2" y="412.7" width="69.6" height="54.7" rx="26.1" ry="20.5"/><rect x="355.9" y="333.0" width="62.1" height="64.0" rx="23.3" ry="24.0"/><rect x="-6.7" y="378.5" width="45.4" height="49.1" rx="17.0" ry="18.4"/><rect x="69.5" y="379.5" width="77.0" height="51.0" rx="28.9" ry="19.1"/><rect x="2.9" y="419.9" width="62.1" height="60.3" rx="23.3" ry="22.6"/><rect x="130.6" y="422.7" width="106.8" height="54.7" rx="40.1" ry="20.5" transform="rotate(-25 184 450)"/><rect x="404.6" y="411.2" width="52.8" height="43.5" rx="19.8" ry="16.3"/><rect x="20.2" y="476.0" width="41.6" height="37.9" rx="15.6" ry="14.2"/><rect x="57.2" y="493.1" width="41.6" height="39.8" rx="15.6" ry="14.9"/><rect x="102.0" y="515.7" width="36.1" height="28.6" rx="13.5" ry="10.7"/><rect x="202.1" y="515.7" width="39.8" height="28.6" rx="14.9" ry="10.7"/><rect x="212.8" y="466.5" width="58.4" height="51.0" rx="21.9" ry="19.1"/><rect x="290.9" y="477.8" width="60.3" height="58.4" rx="22.6" ry="21.9"/><rect x="359.0" y="472.7" width="64.0" height="54.7" rx="24.0" ry="20.5"/><rect x="377.9" y="500.2" width="60.3" height="43.5" rx="22.6" ry="16.3"/><rect x="430.0" y="467.5" width="64.0" height="51.0" rx="24.0" ry="19.1"/><rect x="498.8" y="422.2" width="32.3" height="41.6" rx="12.1" ry="15.6"/></g>
<g fill="rgb(255,255,255)"><rect x="32.7" y="3.2" width="26.7" height="23.5" rx="10.0" ry="8.8"/><rect x="132.4" y="-1.4" width="39.2" height="18.8" rx="14.7" ry="7.1"/><rect x="241.8" y="30.8" width="20.4" height="20.4" rx="7.6" ry="7.6"/><rect x="318.6" y="-4.5" width="18.8" height="11.0" rx="7.1" ry="4.1"/><rect x="179.7" y="67.7" width="48.6" height="26.7" rx="18.2" ry="10.0"/><rect x="448.6" y="4.8" width="62.7" height="34.5" rx="23.5" ry="12.9" transform="rotate(-10 480 22)"/><rect x="377.1" y="53.5" width="51.7" height="32.9" rx="19.4" ry="12.3"/><rect x="474.3" y="54.5" width="31.4" height="25.1" rx="11.8" ry="9.4"/><rect x="500.0" y="106.0" width="22.0" height="36.1" rx="8.2" ry="13.5"/><rect x="2.2" y="78.3" width="23.5" height="31.4" rx="8.8" ry="11.8"/><rect x="27.6" y="165.3" width="54.9" height="31.4" rx="20.6" ry="11.8"/><rect x="106.5" y="175.3" width="47.0" height="31.4" rx="17.6" ry="11.8"/><rect x="200.8" y="230.7" width="34.5" height="26.7" rx="12.9" ry="10.0"/><rect x="228.6" y="211.5" width="18.8" height="25.1" rx="7.1" ry="9.4"/><rect x="472.8" y="233.5" width="34.5" height="25.1" rx="12.9" ry="9.4"/><rect x="320.2" y="285.2" width="15.7" height="15.7" rx="5.9" ry="5.9"/><rect x="106.7" y="316.8" width="26.7" height="20.4" rx="10.0" ry="7.6"/><rect x="65.1" y="333.3" width="29.8" height="31.4" rx="11.2" ry="11.8"/><rect x="145.6" y="339.0" width="40.8" height="36.1" rx="15.3" ry="13.5"/><rect x="268.4" y="325.5" width="39.2" height="69.0" rx="14.7" ry="25.9"/><rect x="278.3" y="389.4" width="103.5" height="39.2" rx="38.8" ry="14.7"/><rect x="333.5" y="406.8" width="47.0" height="34.5" rx="17.6" ry="12.9"/><rect x="370.6" y="327.8" width="40.8" height="42.3" rx="15.3" ry="15.9"/><rect x="6.7" y="372.1" width="26.7" height="29.8" rx="10.0" ry="11.2"/><rect x="85.3" y="373.3" width="53.3" height="31.4" rx="20.0" ry="11.8"/><rect x="17.6" y="414.4" width="40.8" height="39.2" rx="15.3" ry="14.7"/><rect x="148.8" y="416.8" width="78.4" height="34.5" rx="29.4" ry="12.9" transform="rotate(-25 188 434)"/><rect x="418.5" y="404.5" width="32.9" height="25.1" rx="12.3" ry="9.4"/><rect x="33.2" y="468.8" width="23.5" height="20.4" rx="8.8" ry="7.6"/><rect x="70.2" y="486.0" width="23.5" height="22.0" rx="8.8" ry="8.2"/><rect x="114.6" y="507.7" width="18.8" height="12.5" rx="7.1" ry="4.7"/><rect x="215.0" y="507.7" width="22.0" height="12.5" rx="8.2" ry="4.7"/><rect x="227.2" y="460.3" width="37.6" height="31.4" rx="14.1" ry="11.8"/><rect x="305.4" y="472.2" width="39.2" height="37.6" rx="14.7" ry="14.1"/><rect x="373.8" y="466.8" width="42.3" height="34.5" rx="15.9" ry="12.9"/><rect x="392.4" y="493.5" width="39.2" height="25.1" rx="14.7" ry="9.4"/><rect x="444.8" y="461.3" width="42.3" height="31.4" rx="15.9" ry="11.8"/><rect x="511.2" y="415.2" width="15.7" height="23.5" rx="5.9" ry="8.8"/></g>
</g>
<g fill="none" stroke-width="9"><rect x="257.7" y="106.1" width="44.7" height="57.7" rx="16.8" ry="21.6" stroke="rgb(255,255,255)"/><rect x="81.8" y="237.8" width="56.4" height="34.5" rx="21.2" ry="12.9" stroke="rgb(140,140,140)"/></g>
</g></svg><rect x="388.9" y="394.9" width="103.8" height="103.6" fill="none" stroke="#000" stroke-width="1.1"/><path d="M384.30 395.10H388.90 M384.30 435.57H388.90 M384.30 476.04H388.90 M389.10 498.50V503.10 M470.20 498.50V503.10" stroke="#000" stroke-width="1.0" fill="none"/>
<text x="31.90" y="33.20" text-anchor="end" font-family="DejaVu Sans, sans-serif" font-size="13.2" fill="#111">0</text><text x="31.90" y="73.67" text-anchor="end" font-family="DejaVu Sans, sans-serif" font-size="13.2" fill="#111">100</text><text x="31.90" y="114.14" text-anchor="end" font-family="DejaVu Sans, sans-serif" font-size="13.2" fill="#111">200</text><text x="31.90" y="148.90" text-anchor="end" font-family="DejaVu Sans, sans-serif" font-size="13.2" fill="#111">0</text><text x="31.90" y="189.37" text-anchor="end" font-family="DejaVu Sans, sans-serif" font-size="13.2" fill="#111">100</text><text x="31.90" y="229.84" text-anchor="end" font-family="DejaVu Sans, sans-serif" font-size="13.2" fill="#111">200</text><text x="147.90" y="283.80" text-anchor="end" font-family="DejaVu Sans, sans-serif" font-size="13.2" fill="#111">0</text><text x="147.90" y="324.27" text-anchor="end" font-family="DejaVu Sans, sans-serif" font-size="13.2" fill="#111">100</text><text x="147.90" y="364.74" text-anchor="end" font-family="DejaVu Sans, sans-serif" font-size="13.2" fill="#111">200</text><text x="147.90" y="400.00" text-anchor="end" font-family="DejaVu Sans, sans-serif" font-size="13.2" fill="#111">0</text><text x="147.90" y="440.47" text-anchor="end" font-family="DejaVu Sans, sans-serif" font-size="13.2" fill="#111">100</text><text x="147.90" y="480.94" text-anchor="end" font-family="DejaVu Sans, sans-serif" font-size="13.2" fill="#111">200</text><text x="41.10" y="267.20" text-anchor="middle" font-family="DejaVu Sans, sans-serif" font-size="13.2" fill="#111">0</text><text x="122.20" y="267.20" text-anchor="middle" font-family="DejaVu Sans, sans-serif" font-size="13.2" fill="#111">200</text><text x="157.10" y="518.30" text-anchor="middle" font-family="DejaVu Sans, sans-serif" font-size="13.2" fill="#111">0</text><text x="238.20" y="518.30" text-anchor="middle" font-family="DejaVu Sans, sans-serif" font-size="13.2" fill="#111">200</text><text x="273.10" y="518.30" text-anchor="middle" font-family="DejaVu Sans, sans-serif" font-size="13.2" fill="#111">0</text><text x="354.20" y="518.30" text-anchor="middle" font-family="DejaVu Sans, sans-serif" font-size="13.2" fill="#111">200</text><text x="389.10" y="518.30" text-anchor="middle" font-family="DejaVu Sans, sans-serif" font-size="13.2" fill="#111">0</text><text x="470.20" y="518.30" text-anchor="middle" font-family="DejaVu Sans, sans-serif" font-size="13.2" fill="#111">200</text><text x="28.2" y="19.5" font-size="15.2" font-family="Liberation Sans, Arial, sans-serif" fill="#111" textLength="118.2" lengthAdjust="spacingAndGlyphs">Image and mask</text><text x="185.0" y="19.6" font-size="19.6" font-family="Liberation Sans, Arial, sans-serif" fill="#111" textLength="42.8" lengthAdjust="spacingAndGlyphs">CNN</text><text x="281.0" y="19.8" font-size="19.6" font-family="Liberation Sans, Arial, sans-serif" fill="#111" textLength="83.0" lengthAdjust="spacingAndGlyphs">AdaBoost</text><text x="383.4" y="19.6" font-size="19.6" font-family="Liberation Sans, Arial, sans-serif" fill="#111" textLength="109.9" lengthAdjust="spacingAndGlyphs">GaussianNB</text><text x="162.0" y="273.0" font-size="19.4" font-family="Liberation Sans, Arial, sans-serif" fill="#111" textLength="91.0" lengthAdjust="spacingAndGlyphs">KNeighbor</text><text x="268.0" y="273.6" font-size="15.5" font-family="Liberation Sans, Arial, sans-serif" fill="#111" textLength="109.0" lengthAdjust="spacingAndGlyphs">RandomForest</text><text x="417.0" y="272.6" font-size="19.4" font-family="Liberation Sans, Arial, sans-serif" fill="#111" textLength="42.0" lengthAdjust="spacingAndGlyphs">QDA</text><text x="495.0" y="78.3" font-size="13.4" font-family="Liberation Sans, Arial, sans-serif" fill="#111" textLength="46.4" lengthAdjust="spacingAndGlyphs">Poplars</text><text x="495.0" y="195.0" font-size="13.4" font-family="Liberation Sans, Arial, sans-serif" fill="#111" textLength="52.0" lengthAdjust="spacingAndGlyphs">Conifers</text><text x="495.0" y="328.8" font-size="13.4" font-family="Liberation Sans, Arial, sans-serif" fill="#111" textLength="46.4" lengthAdjust="spacingAndGlyphs">Poplars</text><text x="495.0" y="445.7" font-size="13.4" font-family="Liberation Sans, Arial, sans-serif" fill="#111" textLength="52.0" lengthAdjust="spacingAndGlyphs">Conifers</text><text x="10.8" y="298.0" font-size="18.8" font-family="Liberation Sans, Arial, sans-serif" fill="#111" textLength="90.2" lengthAdjust="spacingAndGlyphs">Probability</text><text x="76" y="318.6" font-size="15.2" font-style="italic" font-family="Liberation Sans, Arial, sans-serif" fill="#111" textLength="34" lengthAdjust="spacingAndGlyphs">High</text><text x="76" y="498.6" font-size="15.2" font-style="italic" font-family="Liberation Sans, Arial, sans-serif" fill="#111" textLength="28.8" lengthAdjust="spacingAndGlyphs">Low</text>
</svg></body></html>
